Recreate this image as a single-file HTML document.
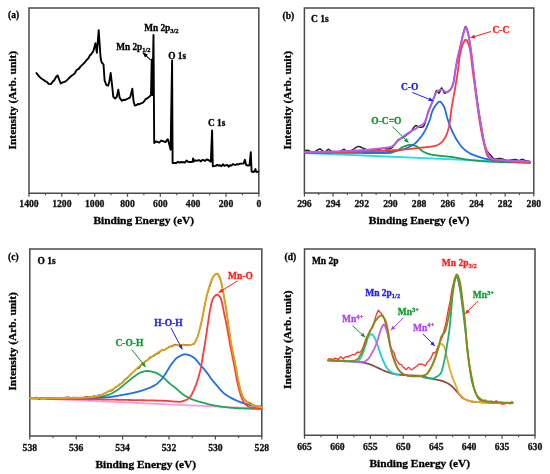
<!DOCTYPE html>
<html><head><meta charset="utf-8"><style>html,body{margin:0;padding:0;background:#fff;width:550px;height:474px;overflow:hidden}svg{display:block;filter:blur(0.3px)}</style></head>
<body><svg width="550" height="474" viewBox="0 0 550 474">
<rect width="550" height="474" fill="#ffffff"/>
<g>
<path d="M29,8 H258.8 V193.2 H29 Z" fill="none" stroke="#4a4a4a" stroke-width="1.5"/>
<line x1="29.00" y1="193.2" x2="29.00" y2="196.7" stroke="#4a4a4a" stroke-width="1.2"/>
<line x1="45.41" y1="193.2" x2="45.41" y2="195.2" stroke="#4a4a4a" stroke-width="1.1"/>
<text x="29.00" y="207.2" font-family="Liberation Serif" font-weight="bold" font-size="9.7" fill="#111" stroke="#111" stroke-width="0.3" text-anchor="middle" >1400</text>
<line x1="61.83" y1="193.2" x2="61.83" y2="196.7" stroke="#4a4a4a" stroke-width="1.2"/>
<line x1="78.24" y1="193.2" x2="78.24" y2="195.2" stroke="#4a4a4a" stroke-width="1.1"/>
<text x="61.83" y="207.2" font-family="Liberation Serif" font-weight="bold" font-size="9.7" fill="#111" stroke="#111" stroke-width="0.3" text-anchor="middle" >1200</text>
<line x1="94.66" y1="193.2" x2="94.66" y2="196.7" stroke="#4a4a4a" stroke-width="1.2"/>
<line x1="111.07" y1="193.2" x2="111.07" y2="195.2" stroke="#4a4a4a" stroke-width="1.1"/>
<text x="94.66" y="207.2" font-family="Liberation Serif" font-weight="bold" font-size="9.7" fill="#111" stroke="#111" stroke-width="0.3" text-anchor="middle" >1000</text>
<line x1="127.49" y1="193.2" x2="127.49" y2="196.7" stroke="#4a4a4a" stroke-width="1.2"/>
<line x1="143.90" y1="193.2" x2="143.90" y2="195.2" stroke="#4a4a4a" stroke-width="1.1"/>
<text x="127.49" y="207.2" font-family="Liberation Serif" font-weight="bold" font-size="9.7" fill="#111" stroke="#111" stroke-width="0.3" text-anchor="middle" >800</text>
<line x1="160.31" y1="193.2" x2="160.31" y2="196.7" stroke="#4a4a4a" stroke-width="1.2"/>
<line x1="176.73" y1="193.2" x2="176.73" y2="195.2" stroke="#4a4a4a" stroke-width="1.1"/>
<text x="160.31" y="207.2" font-family="Liberation Serif" font-weight="bold" font-size="9.7" fill="#111" stroke="#111" stroke-width="0.3" text-anchor="middle" >600</text>
<line x1="193.14" y1="193.2" x2="193.14" y2="196.7" stroke="#4a4a4a" stroke-width="1.2"/>
<line x1="209.56" y1="193.2" x2="209.56" y2="195.2" stroke="#4a4a4a" stroke-width="1.1"/>
<text x="193.14" y="207.2" font-family="Liberation Serif" font-weight="bold" font-size="9.7" fill="#111" stroke="#111" stroke-width="0.3" text-anchor="middle" >400</text>
<line x1="225.97" y1="193.2" x2="225.97" y2="196.7" stroke="#4a4a4a" stroke-width="1.2"/>
<line x1="242.39" y1="193.2" x2="242.39" y2="195.2" stroke="#4a4a4a" stroke-width="1.1"/>
<text x="225.97" y="207.2" font-family="Liberation Serif" font-weight="bold" font-size="9.7" fill="#111" stroke="#111" stroke-width="0.3" text-anchor="middle" >200</text>
<line x1="258.80" y1="193.2" x2="258.80" y2="196.7" stroke="#4a4a4a" stroke-width="1.2"/>
<text x="258.80" y="207.2" font-family="Liberation Serif" font-weight="bold" font-size="9.7" fill="#111" stroke="#111" stroke-width="0.3" text-anchor="middle" >0</text>
<text x="8" y="18" font-family="Liberation Serif" font-weight="bold" font-size="9.5" fill="#000" stroke="#000" stroke-width="0.3" text-anchor="start" >(a)</text>
<text x="0" y="0" font-family="Liberation Serif" font-weight="bold" font-size="11.4" fill="#000" stroke="#000" stroke-width="0.3" text-anchor="middle" transform="translate(15.8,100.2) rotate(-90)">Intensity (Arb. unit)</text>
<text x="143.8" y="224.2" font-family="Liberation Serif" font-weight="bold" font-size="11.4" fill="#000" stroke="#000" stroke-width="0.3" text-anchor="middle" >Binding Energy (eV)</text>
<path d="M36.40,73.10 L37.73,74.63 L39.07,76.38 L40.40,77.70 L42.50,79.20 L43.80,80.01 L45.10,81.20 L46.85,81.93 L48.60,83.90 L50.90,84.10 L52.65,81.73 L54.40,80.00 L56.00,77.01 L57.60,75.40 L60.70,83.50 L62.50,82.40 L64.80,81.80 L67.00,80.20 L68.80,78.39 L70.60,76.50 L73.00,74.80 L74.70,73.44 L76.40,70.20 L79.00,68.60 L80.60,66.41 L82.20,64.90 L84.50,62.80 L86.80,59.70 L88.50,58.20 L90.00,55.10 L91.00,54.60 L93.50,50.80 L95.40,43.20 L96.90,52.90 L98.70,30.10 L100.30,53.80 L100.70,58.50 L101.70,62.50 L103.50,64.30 L104.60,80.50 L106.40,85.20 L108.10,85.70 L109.30,81.70 L110.70,73.00 L112.20,86.30 L113.30,96.80 L115.10,98.50 L116.80,96.80 L118.30,89.80 L119.70,97.90 L122.00,100.80 L123.57,99.80 L125.13,100.01 L126.70,99.10 L128.45,98.45 L130.20,97.30 L132.30,88.60 L133.60,101.40 L134.80,105.50 L136.33,105.17 L137.87,104.05 L139.40,104.30 L140.97,103.31 L142.53,102.85 L144.10,101.40 L145.63,99.09 L147.17,98.35 L148.70,97.30 L151.00,95.00 L151.70,59.70 L152.40,95.00 L153.50,35.00 L154.20,143.00 L155.87,141.54 L157.53,141.83 L159.20,142.60 L161.10,140.56 L163.00,141.10 L165.40,142.10 L167.80,139.20 L169.20,144.00 L170.60,149.70 L172.10,60.50 L172.60,163.00 L174.45,162.84 L176.30,163.00 L177.90,161.78 L179.50,162.52 L181.10,162.00 L182.40,162.28 L183.70,162.20 L185.00,162.50 L186.52,160.58 L188.04,161.80 L189.56,161.99 L191.08,161.94 L192.60,161.70 L193.10,158.40 L193.80,161.50 L195.22,160.26 L196.64,160.83 L198.06,160.31 L199.48,160.25 L200.90,161.39 L202.32,159.91 L203.74,160.29 L205.16,160.76 L206.58,159.56 L208.00,159.80 L209.40,160.67 L210.80,161.70 L212.10,130.40 L212.80,166.20 L214.24,166.10 L215.68,165.88 L217.12,164.80 L218.56,165.53 L220.00,165.30 L221.44,166.25 L222.89,164.22 L224.33,165.90 L225.77,165.38 L227.21,164.85 L228.66,166.70 L230.10,165.30 L231.47,165.62 L232.85,164.04 L234.22,164.71 L235.60,164.85 L236.97,164.11 L238.35,164.50 L239.72,163.77 L241.10,163.60 L243.60,163.60 L244.90,159.80 L246.20,164.90 L247.85,165.57 L249.50,165.30 L250.80,152.20 L251.60,171.60 L253.80,172.00 L255.40,169.10 L256.30,172.00 L258.40,171.60" fill="none" stroke="#000" stroke-width="1.9" stroke-linejoin="round" stroke-linecap="round"/>
<text x="144.2" y="31.2" font-family="Liberation Serif" font-weight="bold" font-size="9.3" fill="#000" stroke="#000" stroke-width="0.3" text-anchor="start" >Mn 2p<tspan font-size="6.5" dy="2.2">3/2</tspan></text>
<text x="116.2" y="50.2" font-family="Liberation Serif" font-weight="bold" font-size="9.3" fill="#000" stroke="#000" stroke-width="0.3" text-anchor="start" >Mn 2p<tspan font-size="6.5" dy="2.2">1/2</tspan></text>
<line x1="150.5" y1="59.8" x2="142.8" y2="52.6" stroke="#000" stroke-width="1.1"/>
<path d="M142.80,52.60 L147.95,54.41 L144.95,57.62 Z" fill="#000"/>
<text x="168.3" y="58.6" font-family="Liberation Serif" font-weight="bold" font-size="9.3" fill="#000" stroke="#000" stroke-width="0.3" text-anchor="start" >O 1s</text>
<text x="208" y="125.6" font-family="Liberation Serif" font-weight="bold" font-size="9.3" fill="#000" stroke="#000" stroke-width="0.3" text-anchor="start" >C 1s</text>
<path d="M304.4,8 H533.8 V193.1 H304.4 Z" fill="none" stroke="#4a4a4a" stroke-width="1.5"/>
<line x1="304.40" y1="193.1" x2="304.40" y2="196.6" stroke="#4a4a4a" stroke-width="1.2"/>
<line x1="318.74" y1="193.1" x2="318.74" y2="195.1" stroke="#4a4a4a" stroke-width="1.1"/>
<text x="304.40" y="207.2" font-family="Liberation Serif" font-weight="bold" font-size="9.7" fill="#111" stroke="#111" stroke-width="0.3" text-anchor="middle" >296</text>
<line x1="333.07" y1="193.1" x2="333.07" y2="196.6" stroke="#4a4a4a" stroke-width="1.2"/>
<line x1="347.41" y1="193.1" x2="347.41" y2="195.1" stroke="#4a4a4a" stroke-width="1.1"/>
<text x="333.07" y="207.2" font-family="Liberation Serif" font-weight="bold" font-size="9.7" fill="#111" stroke="#111" stroke-width="0.3" text-anchor="middle" >294</text>
<line x1="361.75" y1="193.1" x2="361.75" y2="196.6" stroke="#4a4a4a" stroke-width="1.2"/>
<line x1="376.09" y1="193.1" x2="376.09" y2="195.1" stroke="#4a4a4a" stroke-width="1.1"/>
<text x="361.75" y="207.2" font-family="Liberation Serif" font-weight="bold" font-size="9.7" fill="#111" stroke="#111" stroke-width="0.3" text-anchor="middle" >292</text>
<line x1="390.42" y1="193.1" x2="390.42" y2="196.6" stroke="#4a4a4a" stroke-width="1.2"/>
<line x1="404.76" y1="193.1" x2="404.76" y2="195.1" stroke="#4a4a4a" stroke-width="1.1"/>
<text x="390.42" y="207.2" font-family="Liberation Serif" font-weight="bold" font-size="9.7" fill="#111" stroke="#111" stroke-width="0.3" text-anchor="middle" >290</text>
<line x1="419.10" y1="193.1" x2="419.10" y2="196.6" stroke="#4a4a4a" stroke-width="1.2"/>
<line x1="433.44" y1="193.1" x2="433.44" y2="195.1" stroke="#4a4a4a" stroke-width="1.1"/>
<text x="419.10" y="207.2" font-family="Liberation Serif" font-weight="bold" font-size="9.7" fill="#111" stroke="#111" stroke-width="0.3" text-anchor="middle" >288</text>
<line x1="447.77" y1="193.1" x2="447.77" y2="196.6" stroke="#4a4a4a" stroke-width="1.2"/>
<line x1="462.11" y1="193.1" x2="462.11" y2="195.1" stroke="#4a4a4a" stroke-width="1.1"/>
<text x="447.77" y="207.2" font-family="Liberation Serif" font-weight="bold" font-size="9.7" fill="#111" stroke="#111" stroke-width="0.3" text-anchor="middle" >286</text>
<line x1="476.45" y1="193.1" x2="476.45" y2="196.6" stroke="#4a4a4a" stroke-width="1.2"/>
<line x1="490.79" y1="193.1" x2="490.79" y2="195.1" stroke="#4a4a4a" stroke-width="1.1"/>
<text x="476.45" y="207.2" font-family="Liberation Serif" font-weight="bold" font-size="9.7" fill="#111" stroke="#111" stroke-width="0.3" text-anchor="middle" >284</text>
<line x1="505.12" y1="193.1" x2="505.12" y2="196.6" stroke="#4a4a4a" stroke-width="1.2"/>
<line x1="519.46" y1="193.1" x2="519.46" y2="195.1" stroke="#4a4a4a" stroke-width="1.1"/>
<text x="505.12" y="207.2" font-family="Liberation Serif" font-weight="bold" font-size="9.7" fill="#111" stroke="#111" stroke-width="0.3" text-anchor="middle" >282</text>
<line x1="533.80" y1="193.1" x2="533.80" y2="196.6" stroke="#4a4a4a" stroke-width="1.2"/>
<text x="533.80" y="207.2" font-family="Liberation Serif" font-weight="bold" font-size="9.7" fill="#111" stroke="#111" stroke-width="0.3" text-anchor="middle" >280</text>
<text x="282.6" y="18.6" font-family="Liberation Serif" font-weight="bold" font-size="9.5" fill="#000" stroke="#000" stroke-width="0.3" text-anchor="start" >(b)</text>
<text x="0" y="0" font-family="Liberation Serif" font-weight="bold" font-size="11.4" fill="#000" stroke="#000" stroke-width="0.3" text-anchor="middle" transform="translate(290.8,100.2) rotate(-90)">Intensity (Arb. unit)</text>
<text x="419.1" y="224.2" font-family="Liberation Serif" font-weight="bold" font-size="11.4" fill="#000" stroke="#000" stroke-width="0.3" text-anchor="middle" >Binding Energy (eV)</text>
<text x="311" y="21.9" font-family="Liberation Serif" font-weight="bold" font-size="9.5" fill="#000" stroke="#000" stroke-width="0.3" text-anchor="start" >C 1s</text>
<line x1="305" y1="153.00" x2="530" y2="162.60" stroke="#22e0e8" stroke-width="1.8"/>
<path d="M305.00,150.73 L305.50,150.56 L306.00,150.38 L306.50,150.27 L307.00,150.22 L307.50,150.25 L308.00,150.34 L308.50,150.46 L309.00,150.62 L309.50,150.84 L310.00,151.11 L310.50,151.38 L311.00,151.57 L311.50,151.70 L312.00,151.80 L312.50,151.88 L313.00,151.94 L313.50,151.98 L314.00,151.97 L314.50,151.87 L315.00,151.64 L315.50,151.33 L316.00,150.97 L316.50,150.62 L317.00,150.31 L317.50,150.01 L318.00,149.71 L318.50,149.42 L319.00,149.17 L319.50,149.01 L320.00,148.98 L320.50,149.18 L321.00,149.58 L321.50,150.05 L322.00,150.47 L322.50,150.79 L323.00,151.08 L323.50,151.35 L324.00,151.57 L324.50,151.71 L325.00,151.74 L325.50,151.59 L326.00,151.26 L326.50,150.80 L327.00,150.30 L327.50,149.84 L328.00,149.51 L328.50,149.39 L329.00,149.51 L329.50,149.82 L330.00,150.24 L330.50,150.64 L331.00,150.97 L331.50,151.23 L332.00,151.45 L332.50,151.66 L333.00,151.82 L333.50,151.93 L334.00,151.99 L334.50,151.99 L335.00,151.98 L335.50,151.96 L336.00,151.93 L336.50,151.90 L337.00,151.86 L337.50,151.81 L338.00,151.76 L338.50,151.70 L339.00,151.64 L339.50,151.57 L340.00,151.48 L340.50,151.33 L341.00,151.08 L341.50,150.77 L342.00,150.42 L342.50,150.06 L343.00,149.73 L343.50,149.46 L344.00,149.31 L344.50,149.42 L345.00,149.95 L345.50,150.68 L346.00,151.16 L346.50,151.29 L347.00,151.30 L347.50,151.30 L348.00,151.30 L348.50,151.30 L349.00,151.30 L349.50,151.30 L350.00,151.27 L350.50,151.16 L351.00,150.93 L351.50,150.60 L352.00,150.22 L352.50,149.85 L353.00,149.51 L353.50,149.18 L354.00,148.85 L354.50,148.49 L355.00,148.14 L355.50,147.78 L356.00,147.45 L356.50,147.15 L357.00,146.90 L357.50,146.70 L358.00,146.57 L358.50,146.53 L359.00,146.56 L359.50,146.66 L360.00,146.82 L360.50,147.02 L361.00,147.24 L361.50,147.48 L362.00,147.71 L362.50,147.93 L363.00,148.14 L363.50,148.34 L364.00,148.55 L364.50,148.78 L365.00,148.99 L365.50,149.20 L366.00,149.38 L366.50,149.53 L367.00,149.64 L367.50,149.72 L368.00,149.77 L368.50,149.82 L369.00,149.86 L369.50,149.90 L370.00,149.93 L370.50,149.96 L371.00,149.98 L371.50,149.99 L372.00,150.00 L372.50,149.99 L373.00,149.98 L373.50,149.95 L374.00,149.92 L374.50,149.88 L375.00,149.84 L375.50,149.79 L376.00,149.74 L376.50,149.68 L377.00,149.62 L377.50,149.56 L378.00,149.49 L378.50,149.41 L379.00,149.31 L379.50,149.19 L380.00,149.05 L380.50,148.90 L381.00,148.76 L381.50,148.63 L382.00,148.51 L382.50,148.41 L383.00,148.34 L383.50,148.32 L384.00,148.35 L384.50,148.43 L385.00,148.56 L385.50,148.71 L386.00,148.84 L386.50,148.94 L387.00,148.98 L387.50,148.98 L388.00,148.95 L388.50,148.90 L389.00,148.84 L389.50,148.75 L390.00,148.65 L390.50,148.52 L391.00,148.37 L391.50,148.13 L392.00,147.70 L392.50,147.10 L393.00,146.43 L393.50,145.79 L394.00,145.15 L394.50,144.49 L395.00,143.81 L395.50,143.12 L396.00,142.44 L396.50,141.78 L397.00,141.16 L397.50,140.59 L398.00,140.09 L398.50,139.67 L399.00,139.33 L399.50,139.05 L400.00,138.81 L400.50,138.59 L401.00,138.39 L401.50,138.19 L402.00,137.98 L402.50,137.75 L403.00,137.49 L403.50,137.19 L404.00,136.87 L404.50,136.53 L405.00,136.17 L405.50,135.79 L406.00,135.40 L406.50,135.01 L407.00,134.61 L407.50,134.22 L408.00,133.83 L408.50,133.45 L409.00,133.08 L409.50,132.71 L410.00,132.33 L410.50,131.93 L411.00,131.47 L411.50,130.92 L412.00,130.26 L412.50,129.51 L413.00,128.72 L413.50,127.94 L414.00,127.20 L414.50,126.55 L415.00,126.03 L415.50,125.70 L416.00,125.57 L416.50,125.66 L417.00,125.91 L417.50,126.25 L418.00,126.62 L418.50,126.95 L419.00,127.18 L419.50,127.27 L420.00,127.28 L420.50,127.26 L421.00,127.23 L421.50,127.17 L422.00,127.11 L422.50,127.00 L423.00,126.77 L423.50,126.27 L424.00,125.50 L424.50,124.52 L425.00,123.26 L425.50,121.55 L426.00,119.54 L426.50,117.61 L427.00,115.94 L427.50,114.44 L428.00,113.01 L428.50,111.65 L429.00,110.34 L429.50,109.06 L430.00,107.79 L430.50,106.52 L431.00,105.24 L431.50,103.94 L432.00,102.65 L432.50,101.37 L433.00,100.10 L433.50,98.82 L434.00,97.50 L434.50,96.10 L435.00,94.48 L435.50,92.73 L436.00,91.28 L436.50,90.61 L437.00,90.77 L437.50,91.44 L438.00,92.26 L438.50,92.93 L439.00,93.12 L439.50,92.56 L440.00,91.31 L440.50,89.79 L441.00,88.55 L441.50,88.00 L442.00,88.26 L442.50,89.12 L443.00,90.30 L443.50,91.53 L444.00,92.55 L444.50,93.15 L445.00,93.27 L445.50,93.09 L446.00,92.76 L446.50,92.38 L447.00,92.02 L447.50,91.69 L448.00,91.38 L448.50,91.06 L449.00,90.72 L449.50,90.34 L450.00,89.89 L450.50,89.34 L451.00,88.67 L451.50,87.84 L452.00,86.83 L452.50,85.64 L453.00,84.22 L453.50,82.41 L454.00,79.82 L454.50,76.43 L455.00,72.83 L455.50,69.58 L456.00,66.74 L456.50,64.13 L457.00,61.64 L457.50,59.25 L458.00,56.93 L458.50,54.67 L459.00,52.43 L459.50,50.20 L460.00,47.95 L460.50,45.65 L461.00,43.31 L461.50,40.94 L462.00,38.62 L462.50,36.41 L463.00,34.38 L463.50,32.51 L464.00,30.72 L464.50,29.02 L465.00,27.64 L465.50,26.87 L466.00,26.91 L466.50,27.70 L467.00,29.04 L467.50,30.71 L468.00,32.60 L468.50,34.83 L469.00,37.52 L469.50,40.60 L470.00,43.91 L470.50,47.35 L471.00,51.01 L471.50,54.93 L472.00,59.07 L472.50,63.34 L473.00,67.64 L473.50,71.90 L474.00,76.02 L474.50,79.95 L475.00,83.76 L475.50,87.52 L476.00,91.26 L476.50,94.97 L477.00,98.63 L477.50,102.24 L478.00,105.79 L478.50,109.25 L479.00,112.62 L479.50,115.89 L480.00,119.04 L480.50,122.07 L481.00,124.99 L481.50,127.87 L482.00,130.76 L482.50,133.65 L483.00,136.47 L483.50,139.17 L484.00,141.69 L484.50,143.98 L485.00,145.97 L485.50,147.62 L486.00,148.91 L486.50,149.93 L487.00,150.79 L487.50,151.55 L488.00,152.23 L488.50,152.84 L489.00,153.41 L489.50,153.95 L490.00,154.48 L490.50,155.01 L491.00,155.57 L491.50,156.15 L492.00,156.74 L492.50,157.31 L493.00,157.84 L493.50,158.29 L494.00,158.64 L494.50,158.87 L495.00,158.97 L495.50,158.98 L496.00,158.94 L496.50,158.89 L497.00,158.82 L497.50,158.75 L498.00,158.68 L498.50,158.61 L499.00,158.56 L499.50,158.52 L500.00,158.51 L500.50,158.55 L501.00,158.62 L501.50,158.74 L502.00,158.88 L502.50,159.04 L503.00,159.20 L503.50,159.36 L504.00,159.50 L504.50,159.64 L505.00,159.80 L505.50,159.96 L506.00,160.12 L506.50,160.26 L507.00,160.38 L507.50,160.45 L508.00,160.48 L508.50,160.46 L509.00,160.40 L509.50,160.32 L510.00,160.21 L510.50,160.10 L511.00,159.98 L511.50,159.89 L512.00,159.80 L512.50,159.73 L513.00,159.67 L513.50,159.61 L514.00,159.56 L514.50,159.52 L515.00,159.52 L515.50,159.56 L516.00,159.67 L516.50,159.82 L517.00,160.00 L517.50,160.18 L518.00,160.33 L518.50,160.43 L519.00,160.46 L519.50,160.37 L520.00,160.17 L520.50,159.90 L521.00,159.63 L521.50,159.43 L522.00,159.34 L522.50,159.38 L523.00,159.52 L523.50,159.72 L524.00,159.96 L524.50,160.21 L525.00,160.45 L525.50,160.64 L526.00,160.79 L526.50,160.89 L527.00,160.98 L527.50,161.07 L528.00,161.14 L528.50,161.20 L529.00,161.25 L529.50,161.28 L530.00,161.30" fill="none" stroke="#2a2a2a" stroke-width="1.5"/>
<path d="M305.00,152.60 L305.50,152.60 L306.00,152.60 L306.50,152.60 L307.00,152.60 L307.50,152.60 L308.00,152.60 L308.50,152.60 L309.00,152.60 L309.50,152.60 L310.00,152.60 L310.50,152.60 L311.00,152.60 L311.50,152.61 L312.00,152.61 L312.50,152.61 L313.00,152.61 L313.50,152.61 L314.00,152.61 L314.50,152.61 L315.00,152.61 L315.50,152.61 L316.00,152.62 L316.50,152.62 L317.00,152.62 L317.50,152.62 L318.00,152.62 L318.50,152.62 L319.00,152.63 L319.50,152.63 L320.00,152.63 L320.50,152.63 L321.00,152.63 L321.50,152.63 L322.00,152.64 L322.50,152.64 L323.00,152.64 L323.50,152.64 L324.00,152.64 L324.50,152.65 L325.00,152.65 L325.50,152.65 L326.00,152.65 L326.50,152.66 L327.00,152.66 L327.50,152.66 L328.00,152.66 L328.50,152.67 L329.00,152.67 L329.50,152.67 L330.00,152.67 L330.50,152.68 L331.00,152.68 L331.50,152.68 L332.00,152.68 L332.50,152.69 L333.00,152.69 L333.50,152.69 L334.00,152.70 L334.50,152.70 L335.00,152.70 L335.50,152.71 L336.00,152.71 L336.50,152.71 L337.00,152.71 L337.50,152.72 L338.00,152.72 L338.50,152.72 L339.00,152.73 L339.50,152.73 L340.00,152.73 L340.50,152.74 L341.00,152.74 L341.50,152.74 L342.00,152.75 L342.50,152.75 L343.00,152.75 L343.50,152.76 L344.00,152.76 L344.50,152.76 L345.00,152.77 L345.50,152.77 L346.00,152.77 L346.50,152.78 L347.00,152.78 L347.50,152.78 L348.00,152.79 L348.50,152.79 L349.00,152.79 L349.50,152.80 L350.00,152.80 L350.50,152.80 L351.00,152.81 L351.50,152.81 L352.00,152.82 L352.50,152.82 L353.00,152.83 L353.50,152.83 L354.00,152.84 L354.50,152.85 L355.00,152.85 L355.50,152.86 L356.00,152.87 L356.50,152.88 L357.00,152.88 L357.50,152.89 L358.00,152.90 L358.50,152.91 L359.00,152.92 L359.50,152.93 L360.00,152.93 L360.50,152.94 L361.00,152.95 L361.50,152.96 L362.00,152.97 L362.50,152.98 L363.00,152.99 L363.50,153.00 L364.00,153.01 L364.50,153.02 L365.00,153.03 L365.50,153.03 L366.00,153.04 L366.50,153.05 L367.00,153.06 L367.50,153.07 L368.00,153.08 L368.50,153.09 L369.00,153.10 L369.50,153.10 L370.00,153.11 L370.50,153.12 L371.00,153.13 L371.50,153.13 L372.00,153.14 L372.50,153.15 L373.00,153.15 L373.50,153.16 L374.00,153.17 L374.50,153.17 L375.00,153.18 L375.50,153.18 L376.00,153.18 L376.50,153.19 L377.00,153.19 L377.50,153.19 L378.00,153.20 L378.50,153.20 L379.00,153.20 L379.50,153.20 L380.00,153.20 L380.50,153.20 L381.00,153.20 L381.50,153.19 L382.00,153.19 L382.50,153.19 L383.00,153.18 L383.50,153.17 L384.00,153.16 L384.50,153.15 L385.00,153.14 L385.50,153.13 L386.00,153.12 L386.50,153.10 L387.00,153.09 L387.50,153.07 L388.00,153.06 L388.50,153.04 L389.00,153.02 L389.50,153.00 L390.00,152.96 L390.50,152.90 L391.00,152.80 L391.50,152.68 L392.00,152.53 L392.50,152.37 L393.00,152.19 L393.50,151.99 L394.00,151.78 L394.50,151.57 L395.00,151.34 L395.50,151.12 L396.00,150.89 L396.50,150.66 L397.00,150.44 L397.50,150.22 L398.00,149.95 L398.50,149.67 L399.00,149.36 L399.50,149.03 L400.00,148.70 L400.50,148.37 L401.00,148.04 L401.50,147.72 L402.00,147.42 L402.50,147.14 L403.00,146.89 L403.50,146.67 L404.00,146.49 L404.50,146.31 L405.00,146.14 L405.50,145.96 L406.00,145.79 L406.50,145.62 L407.00,145.47 L407.50,145.33 L408.00,145.20 L408.50,145.10 L409.00,145.01 L409.50,144.95 L410.00,144.91 L410.50,144.90 L411.00,144.92 L411.50,144.96 L412.00,145.02 L412.50,145.11 L413.00,145.21 L413.50,145.33 L414.00,145.46 L414.50,145.60 L415.00,145.75 L415.50,145.91 L416.00,146.07 L416.50,146.26 L417.00,146.53 L417.50,146.86 L418.00,147.25 L418.50,147.68 L419.00,148.14 L419.50,148.62 L420.00,149.10 L420.50,149.58 L421.00,150.04 L421.50,150.47 L422.00,150.85 L422.50,151.19 L423.00,151.46 L423.50,151.73 L424.00,151.98 L424.50,152.23 L425.00,152.47 L425.50,152.70 L426.00,152.92 L426.50,153.13 L427.00,153.33 L427.50,153.52 L428.00,153.70 L428.50,153.87 L429.00,154.03 L429.50,154.17 L430.00,154.30 L430.50,154.42 L431.00,154.53 L431.50,154.63 L432.00,154.72 L432.50,154.81 L433.00,154.89 L433.50,154.97 L434.00,155.04 L434.50,155.12 L435.00,155.19 L435.50,155.25 L436.00,155.32 L436.50,155.38 L437.00,155.44 L437.50,155.50 L438.00,155.56 L438.50,155.62 L439.00,155.67 L439.50,155.73 L440.00,155.78 L440.50,155.83 L441.00,155.89 L441.50,155.94 L442.00,155.99 L442.50,156.04 L443.00,156.08 L443.50,156.13 L444.00,156.18 L444.50,156.23 L445.00,156.28 L445.50,156.33 L446.00,156.38 L446.50,156.43 L447.00,156.48 L447.50,156.53 L448.00,156.59 L448.50,156.64 L449.00,156.70 L449.50,156.75 L450.00,156.81 L450.50,156.87 L451.00,156.93 L451.50,156.99 L452.00,157.06 L452.50,157.13 L453.00,157.20 L453.50,157.27 L454.00,157.35 L454.50,157.42 L455.00,157.51 L455.50,157.59 L456.00,157.67 L456.50,157.76 L457.00,157.85 L457.50,157.94 L458.00,158.03 L458.50,158.12 L459.00,158.21 L459.50,158.30 L460.00,158.39 L460.50,158.48 L461.00,158.58 L461.50,158.67 L462.00,158.76 L462.50,158.85 L463.00,158.94 L463.50,159.02 L464.00,159.11 L464.50,159.20 L465.00,159.28 L465.50,159.36 L466.00,159.44 L466.50,159.51 L467.00,159.59 L467.50,159.66 L468.00,159.72 L468.50,159.79 L469.00,159.85 L469.50,159.91 L470.00,159.97 L470.50,160.03 L471.00,160.09 L471.50,160.15 L472.00,160.21 L472.50,160.27 L473.00,160.33 L473.50,160.39 L474.00,160.45 L474.50,160.51 L475.00,160.56 L475.50,160.62 L476.00,160.67 L476.50,160.73 L477.00,160.78 L477.50,160.83 L478.00,160.88 L478.50,160.93 L479.00,160.97 L479.50,161.02 L480.00,161.06 L480.50,161.11 L481.00,161.15 L481.50,161.19 L482.00,161.22 L482.50,161.26 L483.00,161.29 L483.50,161.32 L484.00,161.35 L484.50,161.38 L485.00,161.40 L485.50,161.42 L486.00,161.45 L486.50,161.47 L487.00,161.49 L487.50,161.51 L488.00,161.54 L488.50,161.56 L489.00,161.58 L489.50,161.60 L490.00,161.62 L490.50,161.64 L491.00,161.67 L491.50,161.69 L492.00,161.71 L492.50,161.73 L493.00,161.75 L493.50,161.77 L494.00,161.79 L494.50,161.81 L495.00,161.83 L495.50,161.85 L496.00,161.87 L496.50,161.89 L497.00,161.91 L497.50,161.93 L498.00,161.94 L498.50,161.96 L499.00,161.98 L499.50,162.00 L500.00,162.02 L500.50,162.04 L501.00,162.05 L501.50,162.07 L502.00,162.09 L502.50,162.10 L503.00,162.12 L503.50,162.14 L504.00,162.15 L504.50,162.17 L505.00,162.18 L505.50,162.20 L506.00,162.21 L506.50,162.23 L507.00,162.24 L507.50,162.26 L508.00,162.27 L508.50,162.29 L509.00,162.30 L509.50,162.31 L510.00,162.33 L510.50,162.34 L511.00,162.35 L511.50,162.36 L512.00,162.38 L512.50,162.39 L513.00,162.40 L513.50,162.41 L514.00,162.42 L514.50,162.43 L515.00,162.44 L515.50,162.45 L516.00,162.46 L516.50,162.47 L517.00,162.48 L517.50,162.49 L518.00,162.50 L518.50,162.51 L519.00,162.51 L519.50,162.52 L520.00,162.53 L520.50,162.53 L521.00,162.54 L521.50,162.55 L522.00,162.55 L522.50,162.56 L523.00,162.56 L523.50,162.57 L524.00,162.57 L524.50,162.58 L525.00,162.58 L525.50,162.59 L526.00,162.59 L526.50,162.59 L527.00,162.59 L527.50,162.60 L528.00,162.60 L528.50,162.60 L529.00,162.60 L529.50,162.60 L530.00,162.60" fill="none" stroke="#1a9e50" stroke-width="1.8" stroke-linejoin="round" stroke-linecap="round" />
<path d="M305.00,152.60 L305.50,152.60 L306.00,152.59 L306.50,152.59 L307.00,152.59 L307.50,152.59 L308.00,152.58 L308.50,152.58 L309.00,152.58 L309.50,152.58 L310.00,152.57 L310.50,152.57 L311.00,152.57 L311.50,152.57 L312.00,152.56 L312.50,152.56 L313.00,152.56 L313.50,152.56 L314.00,152.56 L314.50,152.55 L315.00,152.55 L315.50,152.55 L316.00,152.55 L316.50,152.54 L317.00,152.54 L317.50,152.54 L318.00,152.54 L318.50,152.53 L319.00,152.53 L319.50,152.53 L320.00,152.53 L320.50,152.52 L321.00,152.52 L321.50,152.52 L322.00,152.52 L322.50,152.52 L323.00,152.51 L323.50,152.51 L324.00,152.51 L324.50,152.51 L325.00,152.50 L325.50,152.50 L326.00,152.50 L326.50,152.50 L327.00,152.49 L327.50,152.49 L328.00,152.49 L328.50,152.49 L329.00,152.49 L329.50,152.48 L330.00,152.48 L330.50,152.48 L331.00,152.48 L331.50,152.47 L332.00,152.47 L332.50,152.47 L333.00,152.47 L333.50,152.47 L334.00,152.46 L334.50,152.46 L335.00,152.46 L335.50,152.46 L336.00,152.46 L336.50,152.45 L337.00,152.45 L337.50,152.45 L338.00,152.45 L338.50,152.45 L339.00,152.44 L339.50,152.44 L340.00,152.44 L340.50,152.44 L341.00,152.44 L341.50,152.43 L342.00,152.43 L342.50,152.43 L343.00,152.43 L343.50,152.43 L344.00,152.42 L344.50,152.42 L345.00,152.42 L345.50,152.42 L346.00,152.42 L346.50,152.41 L347.00,152.41 L347.50,152.41 L348.00,152.41 L348.50,152.41 L349.00,152.40 L349.50,152.40 L350.00,152.40 L350.50,152.40 L351.00,152.40 L351.50,152.39 L352.00,152.39 L352.50,152.39 L353.00,152.39 L353.50,152.39 L354.00,152.39 L354.50,152.39 L355.00,152.38 L355.50,152.38 L356.00,152.38 L356.50,152.38 L357.00,152.38 L357.50,152.38 L358.00,152.38 L358.50,152.38 L359.00,152.37 L359.50,152.37 L360.00,152.37 L360.50,152.37 L361.00,152.37 L361.50,152.37 L362.00,152.37 L362.50,152.37 L363.00,152.37 L363.50,152.37 L364.00,152.36 L364.50,152.36 L365.00,152.36 L365.50,152.36 L366.00,152.36 L366.50,152.36 L367.00,152.36 L367.50,152.36 L368.00,152.35 L368.50,152.35 L369.00,152.35 L369.50,152.35 L370.00,152.35 L370.50,152.35 L371.00,152.35 L371.50,152.34 L372.00,152.34 L372.50,152.34 L373.00,152.34 L373.50,152.34 L374.00,152.33 L374.50,152.33 L375.00,152.33 L375.50,152.33 L376.00,152.32 L376.50,152.32 L377.00,152.32 L377.50,152.32 L378.00,152.31 L378.50,152.31 L379.00,152.31 L379.50,152.30 L380.00,152.30 L380.50,152.29 L381.00,152.29 L381.50,152.28 L382.00,152.26 L382.50,152.24 L383.00,152.22 L383.50,152.20 L384.00,152.18 L384.50,152.15 L385.00,152.12 L385.50,152.08 L386.00,152.05 L386.50,152.01 L387.00,151.97 L387.50,151.92 L388.00,151.88 L388.50,151.83 L389.00,151.78 L389.50,151.73 L390.00,151.67 L390.50,151.61 L391.00,151.56 L391.50,151.50 L392.00,151.43 L392.50,151.37 L393.00,151.30 L393.50,151.24 L394.00,151.17 L394.50,151.10 L395.00,151.02 L395.50,150.95 L396.00,150.88 L396.50,150.80 L397.00,150.72 L397.50,150.64 L398.00,150.56 L398.50,150.48 L399.00,150.40 L399.50,150.31 L400.00,150.22 L400.50,150.11 L401.00,149.99 L401.50,149.87 L402.00,149.74 L402.50,149.59 L403.00,149.44 L403.50,149.28 L404.00,149.11 L404.50,148.94 L405.00,148.75 L405.50,148.56 L406.00,148.36 L406.50,148.15 L407.00,147.94 L407.50,147.71 L408.00,147.48 L408.50,147.25 L409.00,147.00 L409.50,146.75 L410.00,146.50 L410.50,146.23 L411.00,145.96 L411.50,145.68 L412.00,145.40 L412.50,145.11 L413.00,144.82 L413.50,144.51 L414.00,144.18 L414.50,143.80 L415.00,143.40 L415.50,142.97 L416.00,142.50 L416.50,142.02 L417.00,141.51 L417.50,140.98 L418.00,140.43 L418.50,139.86 L419.00,139.28 L419.50,138.69 L420.00,138.08 L420.50,137.47 L421.00,136.85 L421.50,136.19 L422.00,135.49 L422.50,134.75 L423.00,133.98 L423.50,133.18 L424.00,132.35 L424.50,131.49 L425.00,130.60 L425.50,129.66 L426.00,128.65 L426.50,127.59 L427.00,126.50 L427.50,125.40 L428.00,124.29 L428.50,123.14 L429.00,121.93 L429.50,120.62 L430.00,119.20 L430.50,117.42 L431.00,115.42 L431.50,113.52 L432.00,112.00 L432.50,110.82 L433.00,109.73 L433.50,108.72 L434.00,107.79 L434.50,106.93 L435.00,106.15 L435.50,105.43 L436.00,104.78 L436.50,104.20 L437.00,103.63 L437.50,103.05 L438.00,102.52 L438.50,102.07 L439.00,101.75 L439.50,101.60 L440.00,101.66 L440.50,101.90 L441.00,102.29 L441.50,102.81 L442.00,103.45 L442.50,104.18 L443.00,104.98 L443.50,105.83 L444.00,106.70 L444.50,107.82 L445.00,109.33 L445.50,111.12 L446.00,113.07 L446.50,115.06 L447.00,116.97 L447.50,118.69 L448.00,120.20 L448.50,121.67 L449.00,123.10 L449.50,124.49 L450.00,125.83 L450.50,127.12 L451.00,128.36 L451.50,129.53 L452.00,130.66 L452.50,131.77 L453.00,132.85 L453.50,133.89 L454.00,134.91 L454.50,135.89 L455.00,136.83 L455.50,137.74 L456.00,138.61 L456.50,139.44 L457.00,140.24 L457.50,141.03 L458.00,141.80 L458.50,142.55 L459.00,143.29 L459.50,144.00 L460.00,144.69 L460.50,145.35 L461.00,145.99 L461.50,146.60 L462.00,147.17 L462.50,147.71 L463.00,148.21 L463.50,148.68 L464.00,149.13 L464.50,149.56 L465.00,149.98 L465.50,150.39 L466.00,150.78 L466.50,151.15 L467.00,151.51 L467.50,151.86 L468.00,152.19 L468.50,152.51 L469.00,152.82 L469.50,153.11 L470.00,153.38 L470.50,153.65 L471.00,153.90 L471.50,154.14 L472.00,154.37 L472.50,154.59 L473.00,154.80 L473.50,155.01 L474.00,155.21 L474.50,155.40 L475.00,155.58 L475.50,155.76 L476.00,155.94 L476.50,156.11 L477.00,156.28 L477.50,156.45 L478.00,156.61 L478.50,156.77 L479.00,156.94 L479.50,157.10 L480.00,157.26 L480.50,157.43 L481.00,157.59 L481.50,157.75 L482.00,157.91 L482.50,158.06 L483.00,158.20 L483.50,158.34 L484.00,158.47 L484.50,158.59 L485.00,158.70 L485.50,158.80 L486.00,158.90 L486.50,158.99 L487.00,159.08 L487.50,159.17 L488.00,159.25 L488.50,159.33 L489.00,159.41 L489.50,159.48 L490.00,159.55 L490.50,159.62 L491.00,159.68 L491.50,159.74 L492.00,159.80 L492.50,159.86 L493.00,159.91 L493.50,159.96 L494.00,160.02 L494.50,160.07 L495.00,160.12 L495.50,160.17 L496.00,160.21 L496.50,160.26 L497.00,160.31 L497.50,160.35 L498.00,160.40 L498.50,160.44 L499.00,160.48 L499.50,160.52 L500.00,160.56 L500.50,160.60 L501.00,160.64 L501.50,160.68 L502.00,160.72 L502.50,160.76 L503.00,160.79 L503.50,160.83 L504.00,160.87 L504.50,160.90 L505.00,160.94 L505.50,160.98 L506.00,161.01 L506.50,161.05 L507.00,161.08 L507.50,161.12 L508.00,161.16 L508.50,161.19 L509.00,161.23 L509.50,161.26 L510.00,161.30 L510.50,161.34 L511.00,161.37 L511.50,161.41 L512.00,161.45 L512.50,161.48 L513.00,161.52 L513.50,161.55 L514.00,161.59 L514.50,161.62 L515.00,161.66 L515.50,161.69 L516.00,161.73 L516.50,161.76 L517.00,161.79 L517.50,161.83 L518.00,161.86 L518.50,161.90 L519.00,161.93 L519.50,161.96 L520.00,161.99 L520.50,162.03 L521.00,162.06 L521.50,162.09 L522.00,162.12 L522.50,162.16 L523.00,162.19 L523.50,162.22 L524.00,162.25 L524.50,162.28 L525.00,162.31 L525.50,162.34 L526.00,162.37 L526.50,162.40 L527.00,162.43 L527.50,162.46 L528.00,162.49 L528.50,162.52 L529.00,162.54 L529.50,162.57 L530.00,162.60" fill="none" stroke="#1f6ee8" stroke-width="1.8" stroke-linejoin="round" stroke-linecap="round" />
<path d="M305.00,152.60 L305.50,152.60 L306.00,152.60 L306.50,152.60 L307.00,152.60 L307.50,152.60 L308.00,152.59 L308.50,152.59 L309.00,152.59 L309.50,152.59 L310.00,152.59 L310.50,152.58 L311.00,152.58 L311.50,152.58 L312.00,152.58 L312.50,152.57 L313.00,152.57 L313.50,152.57 L314.00,152.56 L314.50,152.56 L315.00,152.55 L315.50,152.55 L316.00,152.54 L316.50,152.54 L317.00,152.54 L317.50,152.53 L318.00,152.52 L318.50,152.52 L319.00,152.51 L319.50,152.51 L320.00,152.50 L320.50,152.50 L321.00,152.49 L321.50,152.49 L322.00,152.48 L322.50,152.47 L323.00,152.47 L323.50,152.46 L324.00,152.45 L324.50,152.45 L325.00,152.44 L325.50,152.43 L326.00,152.43 L326.50,152.42 L327.00,152.41 L327.50,152.40 L328.00,152.40 L328.50,152.39 L329.00,152.38 L329.50,152.37 L330.00,152.37 L330.50,152.36 L331.00,152.35 L331.50,152.34 L332.00,152.33 L332.50,152.33 L333.00,152.32 L333.50,152.31 L334.00,152.30 L334.50,152.29 L335.00,152.28 L335.50,152.28 L336.00,152.27 L336.50,152.26 L337.00,152.25 L337.50,152.24 L338.00,152.23 L338.50,152.23 L339.00,152.22 L339.50,152.21 L340.00,152.20 L340.50,152.19 L341.00,152.18 L341.50,152.17 L342.00,152.16 L342.50,152.15 L343.00,152.14 L343.50,152.13 L344.00,152.12 L344.50,152.11 L345.00,152.10 L345.50,152.08 L346.00,152.07 L346.50,152.06 L347.00,152.05 L347.50,152.03 L348.00,152.02 L348.50,152.01 L349.00,151.99 L349.50,151.98 L350.00,151.96 L350.50,151.95 L351.00,151.93 L351.50,151.92 L352.00,151.90 L352.50,151.88 L353.00,151.87 L353.50,151.85 L354.00,151.84 L354.50,151.82 L355.00,151.80 L355.50,151.78 L356.00,151.77 L356.50,151.75 L357.00,151.73 L357.50,151.71 L358.00,151.69 L358.50,151.68 L359.00,151.66 L359.50,151.64 L360.00,151.62 L360.50,151.60 L361.00,151.58 L361.50,151.56 L362.00,151.54 L362.50,151.52 L363.00,151.50 L363.50,151.48 L364.00,151.46 L364.50,151.44 L365.00,151.42 L365.50,151.40 L366.00,151.38 L366.50,151.36 L367.00,151.34 L367.50,151.32 L368.00,151.30 L368.50,151.28 L369.00,151.26 L369.50,151.24 L370.00,151.22 L370.50,151.20 L371.00,151.18 L371.50,151.15 L372.00,151.13 L372.50,151.11 L373.00,151.09 L373.50,151.07 L374.00,151.05 L374.50,151.03 L375.00,151.01 L375.50,150.99 L376.00,150.97 L376.50,150.94 L377.00,150.92 L377.50,150.90 L378.00,150.88 L378.50,150.86 L379.00,150.84 L379.50,150.82 L380.00,150.80 L380.50,150.78 L381.00,150.76 L381.50,150.74 L382.00,150.72 L382.50,150.70 L383.00,150.68 L383.50,150.66 L384.00,150.64 L384.50,150.62 L385.00,150.60 L385.50,150.58 L386.00,150.55 L386.50,150.53 L387.00,150.51 L387.50,150.49 L388.00,150.47 L388.50,150.45 L389.00,150.42 L389.50,150.40 L390.00,150.38 L390.50,150.36 L391.00,150.33 L391.50,150.31 L392.00,150.29 L392.50,150.26 L393.00,150.24 L393.50,150.21 L394.00,150.19 L394.50,150.16 L395.00,150.13 L395.50,150.11 L396.00,150.08 L396.50,150.05 L397.00,150.02 L397.50,149.99 L398.00,149.96 L398.50,149.93 L399.00,149.90 L399.50,149.87 L400.00,149.83 L400.50,149.80 L401.00,149.76 L401.50,149.73 L402.00,149.69 L402.50,149.65 L403.00,149.61 L403.50,149.56 L404.00,149.52 L404.50,149.48 L405.00,149.43 L405.50,149.38 L406.00,149.34 L406.50,149.29 L407.00,149.24 L407.50,149.19 L408.00,149.14 L408.50,149.09 L409.00,149.04 L409.50,148.99 L410.00,148.94 L410.50,148.88 L411.00,148.83 L411.50,148.77 L412.00,148.72 L412.50,148.67 L413.00,148.61 L413.50,148.55 L414.00,148.50 L414.50,148.44 L415.00,148.39 L415.50,148.33 L416.00,148.28 L416.50,148.22 L417.00,148.16 L417.50,148.11 L418.00,148.05 L418.50,147.99 L419.00,147.94 L419.50,147.88 L420.00,147.83 L420.50,147.77 L421.00,147.72 L421.50,147.67 L422.00,147.61 L422.50,147.56 L423.00,147.51 L423.50,147.45 L424.00,147.40 L424.50,147.35 L425.00,147.30 L425.50,147.25 L426.00,147.21 L426.50,147.16 L427.00,147.12 L427.50,147.07 L428.00,147.02 L428.50,146.97 L429.00,146.92 L429.50,146.86 L430.00,146.80 L430.50,146.73 L431.00,146.66 L431.50,146.58 L432.00,146.50 L432.50,146.41 L433.00,146.32 L433.50,146.21 L434.00,146.10 L434.50,145.98 L435.00,145.86 L435.50,145.72 L436.00,145.57 L436.50,145.40 L437.00,145.20 L437.50,144.98 L438.00,144.73 L438.50,144.45 L439.00,144.15 L439.50,143.83 L440.00,143.49 L440.50,143.12 L441.00,142.73 L441.50,142.32 L442.00,141.85 L442.50,141.32 L443.00,140.72 L443.50,140.06 L444.00,139.34 L444.50,138.55 L445.00,137.70 L445.50,136.78 L446.00,135.80 L446.50,134.68 L447.00,133.41 L447.50,131.97 L448.00,130.35 L448.50,128.53 L449.00,126.50 L449.50,123.80 L450.00,120.27 L450.50,116.30 L451.00,112.30 L451.50,108.65 L452.00,105.53 L452.50,102.60 L453.00,99.81 L453.50,97.09 L454.00,94.39 L454.50,91.66 L455.00,88.85 L455.50,85.90 L456.00,82.92 L456.50,79.92 L457.00,76.81 L457.50,73.53 L458.00,70.00 L458.50,65.68 L459.00,61.15 L459.50,57.82 L460.00,55.04 L460.50,52.49 L461.00,50.19 L461.50,48.17 L462.00,46.43 L462.50,44.99 L463.00,43.81 L463.50,42.67 L464.00,41.61 L464.50,40.73 L465.00,40.07 L465.50,39.73 L466.00,39.77 L466.50,40.15 L467.00,40.83 L467.50,41.73 L468.00,42.81 L468.50,44.00 L469.00,45.36 L469.50,47.26 L470.00,49.70 L470.50,52.64 L471.00,56.03 L471.50,59.80 L472.00,65.00 L472.50,69.38 L473.00,73.25 L473.50,76.83 L474.00,80.34 L474.50,84.00 L475.00,87.83 L475.50,91.69 L476.00,95.53 L476.50,99.32 L477.00,103.00 L477.50,106.62 L478.00,110.22 L478.50,113.78 L479.00,117.24 L479.50,120.59 L480.00,123.78 L480.50,126.79 L481.00,129.69 L481.50,132.44 L482.00,135.05 L482.50,137.47 L483.00,139.74 L483.50,141.89 L484.00,143.93 L484.50,145.87 L485.00,147.76 L485.50,149.74 L486.00,151.71 L486.50,153.52 L487.00,155.00 L487.50,156.00 L488.00,156.66 L488.50,157.23 L489.00,157.72 L489.50,158.14 L490.00,158.49 L490.50,158.78 L491.00,159.00 L491.50,159.19 L492.00,159.36 L492.50,159.51 L493.00,159.65 L493.50,159.77 L494.00,159.89 L494.50,159.99 L495.00,160.08 L495.50,160.17 L496.00,160.24 L496.50,160.31 L497.00,160.38 L497.50,160.45 L498.00,160.51 L498.50,160.57 L499.00,160.62 L499.50,160.68 L500.00,160.73 L500.50,160.78 L501.00,160.83 L501.50,160.87 L502.00,160.92 L502.50,160.96 L503.00,161.00 L503.50,161.04 L504.00,161.08 L504.50,161.12 L505.00,161.16 L505.50,161.19 L506.00,161.23 L506.50,161.26 L507.00,161.30 L507.50,161.33 L508.00,161.36 L508.50,161.40 L509.00,161.43 L509.50,161.47 L510.00,161.50 L510.50,161.53 L511.00,161.57 L511.50,161.60 L512.00,161.64 L512.50,161.67 L513.00,161.70 L513.50,161.74 L514.00,161.77 L514.50,161.80 L515.00,161.83 L515.50,161.86 L516.00,161.90 L516.50,161.93 L517.00,161.96 L517.50,161.99 L518.00,162.02 L518.50,162.05 L519.00,162.08 L519.50,162.11 L520.00,162.13 L520.50,162.16 L521.00,162.19 L521.50,162.22 L522.00,162.24 L522.50,162.27 L523.00,162.30 L523.50,162.32 L524.00,162.35 L524.50,162.37 L525.00,162.39 L525.50,162.42 L526.00,162.44 L526.50,162.46 L527.00,162.48 L527.50,162.50 L528.00,162.52 L528.50,162.54 L529.00,162.56 L529.50,162.58 L530.00,162.60" fill="none" stroke="#ff3a3a" stroke-width="1.8" stroke-linejoin="round" stroke-linecap="round" />
<path d="M305.00,152.10 L305.50,152.10 L306.00,152.10 L306.50,152.10 L307.00,152.09 L307.50,152.09 L308.00,152.09 L308.50,152.09 L309.00,152.08 L309.50,152.08 L310.00,152.07 L310.50,152.07 L311.00,152.06 L311.50,152.06 L312.00,152.05 L312.50,152.04 L313.00,152.04 L313.50,152.03 L314.00,152.02 L314.50,152.01 L315.00,152.01 L315.50,152.00 L316.00,151.99 L316.50,151.98 L317.00,151.97 L317.50,151.96 L318.00,151.95 L318.50,151.94 L319.00,151.93 L319.50,151.92 L320.00,151.91 L320.50,151.89 L321.00,151.88 L321.50,151.87 L322.00,151.86 L322.50,151.85 L323.00,151.83 L323.50,151.82 L324.00,151.81 L324.50,151.79 L325.00,151.78 L325.50,151.76 L326.00,151.75 L326.50,151.74 L327.00,151.72 L327.50,151.71 L328.00,151.69 L328.50,151.68 L329.00,151.66 L329.50,151.65 L330.00,151.63 L330.50,151.62 L331.00,151.60 L331.50,151.58 L332.00,151.57 L332.50,151.55 L333.00,151.53 L333.50,151.52 L334.00,151.50 L334.50,151.49 L335.00,151.47 L335.50,151.45 L336.00,151.44 L336.50,151.42 L337.00,151.40 L337.50,151.38 L338.00,151.37 L338.50,151.35 L339.00,151.33 L339.50,151.32 L340.00,151.30 L340.50,151.28 L341.00,151.27 L341.50,151.25 L342.00,151.23 L342.50,151.21 L343.00,151.19 L343.50,151.17 L344.00,151.15 L344.50,151.13 L345.00,151.11 L345.50,151.09 L346.00,151.06 L346.50,151.04 L347.00,151.02 L347.50,150.99 L348.00,150.97 L348.50,150.95 L349.00,150.92 L349.50,150.90 L350.00,150.87 L350.50,150.84 L351.00,150.82 L351.50,150.79 L352.00,150.76 L352.50,150.74 L353.00,150.71 L353.50,150.68 L354.00,150.65 L354.50,150.62 L355.00,150.59 L355.50,150.56 L356.00,150.53 L356.50,150.50 L357.00,150.46 L357.50,150.43 L358.00,150.40 L358.50,150.37 L359.00,150.33 L359.50,150.30 L360.00,150.26 L360.50,150.23 L361.00,150.19 L361.50,150.16 L362.00,150.12 L362.50,150.08 L363.00,150.05 L363.50,150.01 L364.00,149.97 L364.50,149.93 L365.00,149.89 L365.50,149.85 L366.00,149.81 L366.50,149.77 L367.00,149.73 L367.50,149.69 L368.00,149.65 L368.50,149.60 L369.00,149.56 L369.50,149.52 L370.00,149.47 L370.50,149.43 L371.00,149.38 L371.50,149.34 L372.00,149.29 L372.50,149.25 L373.00,149.20 L373.50,149.15 L374.00,149.11 L374.50,149.06 L375.00,149.01 L375.50,148.96 L376.00,148.91 L376.50,148.86 L377.00,148.81 L377.50,148.76 L378.00,148.71 L378.50,148.66 L379.00,148.61 L379.50,148.55 L380.00,148.50 L380.50,148.45 L381.00,148.39 L381.50,148.34 L382.00,148.28 L382.50,148.23 L383.00,148.17 L383.50,148.11 L384.00,148.05 L384.50,147.99 L385.00,147.92 L385.50,147.85 L386.00,147.77 L386.50,147.69 L387.00,147.61 L387.50,147.52 L388.00,147.42 L388.50,147.32 L389.00,147.21 L389.50,147.10 L390.00,146.98 L390.50,146.85 L391.00,146.71 L391.50,146.57 L392.00,146.37 L392.50,146.09 L393.00,145.76 L393.50,145.37 L394.00,144.93 L394.50,144.45 L395.00,143.95 L395.50,143.43 L396.00,142.89 L396.50,142.35 L397.00,141.81 L397.50,141.29 L398.00,140.80 L398.50,140.33 L399.00,139.90 L399.50,139.50 L400.00,139.09 L400.50,138.69 L401.00,138.29 L401.50,137.90 L402.00,137.50 L402.50,137.11 L403.00,136.73 L403.50,136.34 L404.00,135.96 L404.50,135.59 L405.00,135.22 L405.50,134.86 L406.00,134.50 L406.50,134.15 L407.00,133.80 L407.50,133.46 L408.00,133.13 L408.50,132.80 L409.00,132.48 L409.50,132.18 L410.00,131.88 L410.50,131.60 L411.00,131.32 L411.50,131.04 L412.00,130.77 L412.50,130.50 L413.00,130.22 L413.50,129.95 L414.00,129.67 L414.50,129.39 L415.00,129.10 L415.50,128.81 L416.00,128.50 L416.50,128.18 L417.00,127.85 L417.50,127.51 L418.00,127.16 L418.50,126.81 L419.00,126.47 L419.50,126.13 L420.00,125.80 L420.50,125.50 L421.00,125.23 L421.50,124.98 L422.00,124.72 L422.50,124.43 L423.00,124.09 L423.50,123.69 L424.00,123.17 L424.50,122.46 L425.00,121.57 L425.50,120.51 L426.00,119.31 L426.50,118.00 L427.00,116.17 L427.50,113.92 L428.00,112.00 L428.50,110.60 L429.00,109.37 L429.50,108.27 L430.00,107.23 L430.50,106.21 L431.00,105.13 L431.50,103.95 L432.00,102.66 L432.50,101.29 L433.00,99.91 L433.50,98.55 L434.00,97.27 L434.50,96.11 L435.00,95.05 L435.50,93.99 L436.00,93.00 L436.50,92.17 L437.00,91.58 L437.50,91.21 L438.00,90.88 L438.50,90.57 L439.00,90.29 L439.50,90.06 L440.00,89.86 L440.50,89.72 L441.00,89.63 L441.50,89.60 L442.00,89.67 L442.50,89.87 L443.00,90.16 L443.50,90.52 L444.00,90.91 L444.50,91.30 L445.00,91.67 L445.50,91.98 L446.00,92.20 L446.50,92.30 L447.00,92.26 L447.50,92.09 L448.00,91.81 L448.50,91.43 L449.00,90.99 L449.50,90.48 L450.00,89.95 L450.50,89.38 L451.00,88.72 L451.50,87.89 L452.00,86.89 L452.50,85.70 L453.00,84.31 L453.50,82.70 L454.00,80.19 L454.50,76.61 L455.00,72.76 L455.50,69.38 L456.00,66.32 L456.50,63.35 L457.00,60.55 L457.50,58.00 L458.00,55.72 L458.50,53.63 L459.00,51.66 L459.50,49.74 L460.00,47.80 L460.50,45.77 L461.00,43.63 L461.50,41.43 L462.00,39.25 L462.50,37.16 L463.00,35.22 L463.50,33.50 L464.00,31.79 L464.50,30.05 L465.00,28.61 L465.50,27.78 L466.00,27.85 L466.50,28.69 L467.00,30.06 L467.50,31.74 L468.00,33.50 L468.50,35.53 L469.00,38.07 L469.50,40.97 L470.00,44.08 L470.50,47.23 L471.00,50.58 L471.50,54.20 L472.00,58.02 L472.50,62.00 L473.00,66.27 L473.50,70.85 L474.00,75.50 L474.50,80.00 L475.00,84.40 L475.50,88.82 L476.00,93.14 L476.50,97.24 L477.00,101.00 L477.50,104.42 L478.00,107.61 L478.50,110.64 L479.00,113.55 L479.50,116.38 L480.00,119.20 L480.50,122.06 L481.00,125.00 L481.50,128.11 L482.00,131.28 L482.50,134.32 L483.00,137.00 L483.50,139.39 L484.00,141.67 L484.50,143.81 L485.00,145.77 L485.50,147.51 L486.00,149.00 L486.50,150.34 L487.00,151.62 L487.50,152.83 L488.00,153.95 L488.50,154.94 L489.00,155.80 L489.50,156.49 L490.00,157.00 L490.50,157.40 L491.00,157.76 L491.50,158.10 L492.00,158.40 L492.50,158.68 L493.00,158.92 L493.50,159.12 L494.00,159.28 L494.50,159.41 L495.00,159.50 L495.50,159.57 L496.00,159.63 L496.50,159.68 L497.00,159.74 L497.50,159.79 L498.00,159.83 L498.50,159.88 L499.00,159.92 L499.50,159.96 L500.00,159.99 L500.50,160.02 L501.00,160.06 L501.50,160.09 L502.00,160.11 L502.50,160.14 L503.00,160.16 L503.50,160.19 L504.00,160.21 L504.50,160.23 L505.00,160.26 L505.50,160.28 L506.00,160.30 L506.50,160.32 L507.00,160.34 L507.50,160.37 L508.00,160.39 L508.50,160.42 L509.00,160.44 L509.50,160.47 L510.00,160.50 L510.50,160.53 L511.00,160.56 L511.50,160.59 L512.00,160.62 L512.50,160.65 L513.00,160.68 L513.50,160.71 L514.00,160.74 L514.50,160.77 L515.00,160.80 L515.50,160.83 L516.00,160.85 L516.50,160.88 L517.00,160.91 L517.50,160.94 L518.00,160.97 L518.50,161.00 L519.00,161.02 L519.50,161.05 L520.00,161.08 L520.50,161.11 L521.00,161.14 L521.50,161.16 L522.00,161.19 L522.50,161.22 L523.00,161.24 L523.50,161.27 L524.00,161.30 L524.50,161.32 L525.00,161.35 L525.50,161.37 L526.00,161.40 L526.50,161.43 L527.00,161.45 L527.50,161.48 L528.00,161.50 L528.50,161.53 L529.00,161.55 L529.50,161.58 L530.00,161.60" fill="none" stroke="#b55cf0" stroke-width="1.9" stroke-linejoin="round" stroke-linecap="round" />
<text x="492.5" y="32.8" font-family="Liberation Serif" font-weight="bold" font-size="9.5" fill="#ff2020" stroke="#ff2020" stroke-width="0.3" text-anchor="start" >C-C</text>
<line x1="491" y1="31.5" x2="470.4" y2="37.8" stroke="#ff2020" stroke-width="1.0"/>
<path d="M470.40,37.80 L474.12,34.57 L475.29,38.40 Z" fill="#ff2020"/>
<text x="401" y="90.3" font-family="Liberation Serif" font-weight="bold" font-size="9.5" fill="#2222ee" stroke="#2222ee" stroke-width="0.3" text-anchor="start" >C-O</text>
<line x1="412.3" y1="92.4" x2="433.2" y2="100.9" stroke="#2222ee" stroke-width="1.0"/>
<path d="M433.20,100.90 L428.28,101.06 L429.79,97.35 Z" fill="#2222ee"/>
<text x="371.3" y="123.6" font-family="Liberation Serif" font-weight="bold" font-size="9.5" fill="#0d9a2e" stroke="#0d9a2e" stroke-width="0.3" text-anchor="start" >O-C=O</text>
<line x1="392.4" y1="126.6" x2="408.5" y2="142.7" stroke="#0d9a2e" stroke-width="1.0"/>
<path d="M408.50,142.70 L403.90,140.93 L406.73,138.10 Z" fill="#0d9a2e"/>
<path d="M29.8,248.9 H261.8 V436 H29.8 Z" fill="none" stroke="#4a4a4a" stroke-width="1.5"/>
<line x1="29.80" y1="436" x2="29.80" y2="439.5" stroke="#4a4a4a" stroke-width="1.2"/>
<line x1="53.00" y1="436" x2="53.00" y2="438" stroke="#4a4a4a" stroke-width="1.1"/>
<text x="29.80" y="450.6" font-family="Liberation Serif" font-weight="bold" font-size="9.7" fill="#111" stroke="#111" stroke-width="0.3" text-anchor="middle" >538</text>
<line x1="76.20" y1="436" x2="76.20" y2="439.5" stroke="#4a4a4a" stroke-width="1.2"/>
<line x1="99.40" y1="436" x2="99.40" y2="438" stroke="#4a4a4a" stroke-width="1.1"/>
<text x="76.20" y="450.6" font-family="Liberation Serif" font-weight="bold" font-size="9.7" fill="#111" stroke="#111" stroke-width="0.3" text-anchor="middle" >536</text>
<line x1="122.60" y1="436" x2="122.60" y2="439.5" stroke="#4a4a4a" stroke-width="1.2"/>
<line x1="145.80" y1="436" x2="145.80" y2="438" stroke="#4a4a4a" stroke-width="1.1"/>
<text x="122.60" y="450.6" font-family="Liberation Serif" font-weight="bold" font-size="9.7" fill="#111" stroke="#111" stroke-width="0.3" text-anchor="middle" >534</text>
<line x1="169.00" y1="436" x2="169.00" y2="439.5" stroke="#4a4a4a" stroke-width="1.2"/>
<line x1="192.20" y1="436" x2="192.20" y2="438" stroke="#4a4a4a" stroke-width="1.1"/>
<text x="169.00" y="450.6" font-family="Liberation Serif" font-weight="bold" font-size="9.7" fill="#111" stroke="#111" stroke-width="0.3" text-anchor="middle" >532</text>
<line x1="215.40" y1="436" x2="215.40" y2="439.5" stroke="#4a4a4a" stroke-width="1.2"/>
<line x1="238.60" y1="436" x2="238.60" y2="438" stroke="#4a4a4a" stroke-width="1.1"/>
<text x="215.40" y="450.6" font-family="Liberation Serif" font-weight="bold" font-size="9.7" fill="#111" stroke="#111" stroke-width="0.3" text-anchor="middle" >530</text>
<line x1="261.80" y1="436" x2="261.80" y2="439.5" stroke="#4a4a4a" stroke-width="1.2"/>
<text x="261.80" y="450.6" font-family="Liberation Serif" font-weight="bold" font-size="9.7" fill="#111" stroke="#111" stroke-width="0.3" text-anchor="middle" >528</text>
<text x="8" y="259.6" font-family="Liberation Serif" font-weight="bold" font-size="9.5" fill="#000" stroke="#000" stroke-width="0.3" text-anchor="start" >(c)</text>
<text x="0" y="0" font-family="Liberation Serif" font-weight="bold" font-size="11.4" fill="#000" stroke="#000" stroke-width="0.3" text-anchor="middle" transform="translate(15.8,341.4) rotate(-90)">Intensity (Arb. unit)</text>
<text x="145.8" y="467.6" font-family="Liberation Serif" font-weight="bold" font-size="11.4" fill="#000" stroke="#000" stroke-width="0.3" text-anchor="middle" >Binding Energy (eV)</text>
<text x="37.6" y="264.4" font-family="Liberation Serif" font-weight="bold" font-size="9.5" fill="#000" stroke="#000" stroke-width="0.3" text-anchor="start" >O 1s</text>
<line x1="30" y1="398.2" x2="261.5" y2="408.6" stroke="#ff9ad8" stroke-width="1.8"/>
<path d="M30.00,398.77 L31.00,397.84 L32.00,397.70 L33.00,397.81 L34.00,397.73 L35.00,397.47 L36.00,397.22 L37.00,397.57 L38.00,398.49 L39.00,399.31 L40.00,398.92 L41.00,398.16 L42.00,397.78 L43.00,397.54 L44.00,397.49 L45.00,397.81 L46.00,398.18 L47.00,398.36 L48.00,398.44 L49.00,398.36 L50.00,398.53 L51.00,398.83 L52.00,398.57 L53.00,398.10 L54.00,398.16 L55.00,398.68 L56.00,398.88 L57.00,398.44 L58.00,398.18 L59.00,398.14 L60.00,397.88 L61.00,397.98 L62.00,398.38 L63.00,398.46 L64.00,398.21 L65.00,397.65 L66.00,397.17 L67.00,397.37 L68.00,397.24 L69.00,397.14 L70.00,397.68 L71.00,397.95 L72.00,397.59 L73.00,397.34 L74.00,397.61 L75.00,398.10 L76.00,398.52 L77.00,398.50 L78.00,398.33 L79.00,398.16 L80.00,397.71 L81.00,397.49 L82.00,397.77 L83.00,397.84 L84.00,397.46 L85.00,397.10 L86.00,396.78 L87.00,396.59 L88.00,397.03 L89.00,397.07 L90.00,396.61 L91.00,396.52 L92.00,396.58 L93.00,396.39 L94.00,395.89 L95.00,396.01 L96.00,396.55 L97.00,396.25 L98.00,395.34 L99.00,395.12 L100.00,395.26 L101.00,395.23 L102.00,394.98 L103.00,394.25 L104.00,393.56 L105.00,393.16 L106.00,392.96 L107.00,392.25 L108.00,391.24 L109.00,390.83 L110.00,391.11 L111.00,390.98 L112.00,390.45 L113.00,389.76 L114.00,388.70 L115.00,387.50 L116.00,386.64 L117.00,386.28 L118.00,385.83 L119.00,384.75 L120.00,383.90 L121.00,383.45 L122.00,382.94 L123.00,381.86 L124.00,380.23 L125.00,379.06 L126.00,378.76 L127.00,378.49 L128.00,377.59 L129.00,376.32 L130.00,375.17 L131.00,374.26 L132.00,373.41 L133.00,372.44 L134.00,371.27 L135.00,370.30 L136.00,369.52 L137.00,368.85 L138.00,368.44 L139.00,368.17 L140.00,367.25 L141.00,365.52 L142.00,363.66 L143.00,362.67 L144.00,362.14 L145.00,361.36 L146.00,360.60 L147.00,360.49 L148.00,359.87 L149.00,358.42 L150.00,357.31 L151.00,356.81 L152.00,356.64 L153.00,356.57 L154.00,356.11 L155.00,355.12 L156.00,354.33 L157.00,353.91 L158.00,353.60 L159.00,352.98 L160.00,351.95 L161.00,350.75 L162.00,350.04 L163.00,349.99 L164.00,350.23 L165.00,349.86 L166.00,348.98 L167.00,348.27 L168.00,347.66 L169.00,346.81 L170.00,346.34 L171.00,346.63 L172.00,346.71 L173.00,345.86 L174.00,344.90 L175.00,344.37 L176.00,344.47 L177.00,345.08 L178.00,345.39 L179.00,345.25 L180.00,345.12 L181.00,345.00 L182.00,344.67 L183.00,344.35 L184.00,344.54 L185.00,344.81 L186.00,344.76 L187.00,344.69 L188.00,344.76 L189.00,345.03 L190.00,345.14 L191.00,344.79 L192.00,344.53 L193.00,344.47 L194.00,344.12 L195.00,342.71 L196.00,340.29 L197.00,337.98 L198.00,335.29 L199.00,331.95 L200.00,328.46 L201.00,324.62 L202.00,320.13 L203.00,315.03 L204.00,309.48 L205.00,303.90 L206.00,299.19 L207.00,295.18 L208.00,291.69 L209.00,288.86 L210.00,286.00 L211.00,282.89 L212.00,279.71 L213.00,277.27 L214.00,275.78 L215.00,274.77 L216.00,274.02 L217.00,273.91 L218.00,274.86 L219.00,276.65 L220.00,278.81 L221.00,281.85 L222.00,285.79 L223.00,290.64 L224.00,295.96 L225.00,301.68 L226.00,308.15 L227.00,315.19 L228.00,322.49 L229.00,329.75 L230.00,336.71 L231.00,342.77 L232.00,348.02 L233.00,352.63 L234.00,357.25 L235.00,362.34 L236.00,367.77 L237.00,373.58 L238.00,379.18 L239.00,384.02 L240.00,388.06 L241.00,391.52 L242.00,394.36 L243.00,396.53 L244.00,398.33 L245.00,399.80 L246.00,400.80 L247.00,401.48 L248.00,401.99 L249.00,402.35 L250.00,402.66 L251.00,403.33 L252.00,404.26 L253.00,405.29 L254.00,405.57 L255.00,405.29 L256.00,405.58 L257.00,405.96 L258.00,406.19 L259.00,406.48 L260.00,406.25 L261.00,405.73" fill="none" stroke="#333" stroke-width="1.1"/>
<path d="M30.00,398.20 L30.50,398.20 L31.00,398.20 L31.50,398.20 L32.00,398.20 L32.50,398.20 L33.00,398.20 L33.50,398.20 L34.00,398.20 L34.50,398.20 L35.00,398.20 L35.50,398.20 L36.00,398.20 L36.50,398.20 L37.00,398.20 L37.50,398.20 L38.00,398.20 L38.50,398.20 L39.00,398.20 L39.50,398.20 L40.00,398.20 L40.50,398.20 L41.00,398.20 L41.50,398.20 L42.00,398.20 L42.50,398.20 L43.00,398.20 L43.50,398.20 L44.00,398.20 L44.50,398.20 L45.00,398.20 L45.50,398.20 L46.00,398.20 L46.50,398.20 L47.00,398.20 L47.50,398.20 L48.00,398.20 L48.50,398.20 L49.00,398.20 L49.50,398.20 L50.00,398.20 L50.50,398.20 L51.00,398.20 L51.50,398.20 L52.00,398.20 L52.50,398.20 L53.00,398.20 L53.50,398.20 L54.00,398.20 L54.50,398.20 L55.00,398.20 L55.50,398.20 L56.00,398.20 L56.50,398.20 L57.00,398.20 L57.50,398.20 L58.00,398.20 L58.50,398.20 L59.00,398.20 L59.50,398.20 L60.00,398.20 L60.50,398.20 L61.00,398.20 L61.50,398.20 L62.00,398.20 L62.50,398.20 L63.00,398.20 L63.50,398.20 L64.00,398.20 L64.50,398.20 L65.00,398.20 L65.50,398.20 L66.00,398.20 L66.50,398.20 L67.00,398.20 L67.50,398.20 L68.00,398.20 L68.50,398.20 L69.00,398.20 L69.50,398.20 L70.00,398.20 L70.50,398.20 L71.00,398.20 L71.50,398.20 L72.00,398.20 L72.50,398.20 L73.00,398.20 L73.50,398.20 L74.00,398.20 L74.50,398.20 L75.00,398.20 L75.50,398.20 L76.00,398.20 L76.50,398.20 L77.00,398.20 L77.50,398.20 L78.00,398.20 L78.50,398.20 L79.00,398.20 L79.50,398.20 L80.00,398.20 L80.50,398.20 L81.00,398.19 L81.50,398.19 L82.00,398.18 L82.50,398.17 L83.00,398.15 L83.50,398.14 L84.00,398.12 L84.50,398.10 L85.00,398.07 L85.50,398.05 L86.00,398.02 L86.50,397.99 L87.00,397.96 L87.50,397.93 L88.00,397.89 L88.50,397.85 L89.00,397.81 L89.50,397.77 L90.00,397.73 L90.50,397.69 L91.00,397.64 L91.50,397.59 L92.00,397.54 L92.50,397.49 L93.00,397.44 L93.50,397.39 L94.00,397.33 L94.50,397.27 L95.00,397.22 L95.50,397.16 L96.00,397.10 L96.50,397.04 L97.00,396.97 L97.50,396.91 L98.00,396.84 L98.50,396.78 L99.00,396.71 L99.50,396.65 L100.00,396.58 L100.50,396.51 L101.00,396.44 L101.50,396.37 L102.00,396.30 L102.50,396.23 L103.00,396.16 L103.50,396.07 L104.00,395.98 L104.50,395.88 L105.00,395.76 L105.50,395.64 L106.00,395.52 L106.50,395.38 L107.00,395.24 L107.50,395.09 L108.00,394.93 L108.50,394.77 L109.00,394.59 L109.50,394.40 L110.00,394.20 L110.50,393.98 L111.00,393.74 L111.50,393.50 L112.00,393.24 L112.50,392.98 L113.00,392.70 L113.50,392.42 L114.00,392.12 L114.50,391.82 L115.00,391.52 L115.50,391.21 L116.00,390.89 L116.50,390.57 L117.00,390.25 L117.50,389.93 L118.00,389.60 L118.50,389.26 L119.00,388.90 L119.50,388.52 L120.00,388.13 L120.50,387.73 L121.00,387.32 L121.50,386.90 L122.00,386.48 L122.50,386.05 L123.00,385.62 L123.50,385.19 L124.00,384.76 L124.50,384.33 L125.00,383.91 L125.50,383.49 L126.00,383.08 L126.50,382.68 L127.00,382.27 L127.50,381.86 L128.00,381.44 L128.50,381.03 L129.00,380.61 L129.50,380.20 L130.00,379.79 L130.50,379.37 L131.00,378.97 L131.50,378.56 L132.00,378.17 L132.50,377.78 L133.00,377.39 L133.50,377.02 L134.00,376.65 L134.50,376.30 L135.00,375.95 L135.50,375.58 L136.00,375.22 L136.50,374.86 L137.00,374.50 L137.50,374.16 L138.00,373.83 L138.50,373.52 L139.00,373.23 L139.50,372.97 L140.00,372.75 L140.50,372.57 L141.00,372.39 L141.50,372.22 L142.00,372.05 L142.50,371.89 L143.00,371.73 L143.50,371.59 L144.00,371.45 L144.50,371.33 L145.00,371.23 L145.50,371.14 L146.00,371.07 L146.50,371.03 L147.00,371.00 L147.50,371.00 L148.00,371.02 L148.50,371.06 L149.00,371.11 L149.50,371.17 L150.00,371.25 L150.50,371.34 L151.00,371.43 L151.50,371.54 L152.00,371.65 L152.50,371.77 L153.00,371.89 L153.50,372.02 L154.00,372.15 L154.50,372.28 L155.00,372.44 L155.50,372.63 L156.00,372.84 L156.50,373.07 L157.00,373.32 L157.50,373.59 L158.00,373.87 L158.50,374.16 L159.00,374.46 L159.50,374.77 L160.00,375.09 L160.50,375.40 L161.00,375.73 L161.50,376.09 L162.00,376.47 L162.50,376.86 L163.00,377.28 L163.50,377.70 L164.00,378.13 L164.50,378.57 L165.00,379.00 L165.50,379.44 L166.00,379.91 L166.50,380.39 L167.00,380.87 L167.50,381.37 L168.00,381.86 L168.50,382.34 L169.00,382.81 L169.50,383.27 L170.00,383.70 L170.50,384.11 L171.00,384.50 L171.50,384.88 L172.00,385.24 L172.50,385.61 L173.00,385.97 L173.50,386.34 L174.00,386.71 L174.50,387.10 L175.00,387.50 L175.50,387.92 L176.00,388.35 L176.50,388.79 L177.00,389.24 L177.50,389.69 L178.00,390.15 L178.50,390.61 L179.00,391.06 L179.50,391.52 L180.00,391.96 L180.50,392.41 L181.00,392.84 L181.50,393.26 L182.00,393.66 L182.50,394.05 L183.00,394.42 L183.50,394.77 L184.00,395.10 L184.50,395.41 L185.00,395.72 L185.50,396.02 L186.00,396.31 L186.50,396.60 L187.00,396.88 L187.50,397.15 L188.00,397.42 L188.50,397.68 L189.00,397.93 L189.50,398.18 L190.00,398.42 L190.50,398.65 L191.00,398.88 L191.50,399.10 L192.00,399.31 L192.50,399.51 L193.00,399.71 L193.50,399.90 L194.00,400.08 L194.50,400.26 L195.00,400.43 L195.50,400.60 L196.00,400.76 L196.50,400.91 L197.00,401.06 L197.50,401.21 L198.00,401.35 L198.50,401.50 L199.00,401.63 L199.50,401.77 L200.00,401.91 L200.50,402.04 L201.00,402.17 L201.50,402.30 L202.00,402.44 L202.50,402.57 L203.00,402.70 L203.50,402.83 L204.00,402.97 L204.50,403.10 L205.00,403.24 L205.50,403.37 L206.00,403.51 L206.50,403.64 L207.00,403.77 L207.50,403.91 L208.00,404.04 L208.50,404.17 L209.00,404.30 L209.50,404.42 L210.00,404.54 L210.50,404.66 L211.00,404.78 L211.50,404.90 L212.00,405.01 L212.50,405.12 L213.00,405.22 L213.50,405.32 L214.00,405.42 L214.50,405.51 L215.00,405.60 L215.50,405.68 L216.00,405.77 L216.50,405.85 L217.00,405.94 L217.50,406.02 L218.00,406.10 L218.50,406.18 L219.00,406.26 L219.50,406.34 L220.00,406.42 L220.50,406.50 L221.00,406.57 L221.50,406.65 L222.00,406.72 L222.50,406.80 L223.00,406.87 L223.50,406.94 L224.00,407.01 L224.50,407.08 L225.00,407.14 L225.50,407.21 L226.00,407.27 L226.50,407.33 L227.00,407.39 L227.50,407.45 L228.00,407.50 L228.50,407.56 L229.00,407.61 L229.50,407.66 L230.00,407.70 L230.50,407.75 L231.00,407.79 L231.50,407.83 L232.00,407.87 L232.50,407.91 L233.00,407.94 L233.50,407.97 L234.00,408.00 L234.50,408.03 L235.00,408.05 L235.50,408.08 L236.00,408.11 L236.50,408.13 L237.00,408.16 L237.50,408.18 L238.00,408.21 L238.50,408.23 L239.00,408.26 L239.50,408.28 L240.00,408.31 L240.50,408.33 L241.00,408.35 L241.50,408.38 L242.00,408.40 L242.50,408.42 L243.00,408.45 L243.50,408.47 L244.00,408.49 L244.50,408.51 L245.00,408.53 L245.50,408.55 L246.00,408.57 L246.50,408.59 L247.00,408.61 L247.50,408.63 L248.00,408.64 L248.50,408.66 L249.00,408.68 L249.50,408.69 L250.00,408.71 L250.50,408.73 L251.00,408.74 L251.50,408.75 L252.00,408.77 L252.50,408.78 L253.00,408.79 L253.50,408.80 L254.00,408.82 L254.50,408.83 L255.00,408.84 L255.50,408.85 L256.00,408.85 L256.50,408.86 L257.00,408.87 L257.50,408.88 L258.00,408.88 L258.50,408.89 L259.00,408.89 L259.50,408.89 L260.00,408.90 L260.50,408.90 L261.00,408.90 L261.50,408.90" fill="none" stroke="#1ea85a" stroke-width="1.8" stroke-linejoin="round" stroke-linecap="round" />
<path d="M30.00,398.20 L30.50,398.21 L31.00,398.22 L31.50,398.23 L32.00,398.25 L32.50,398.26 L33.00,398.27 L33.50,398.28 L34.00,398.29 L34.50,398.30 L35.00,398.31 L35.50,398.32 L36.00,398.33 L36.50,398.34 L37.00,398.35 L37.50,398.35 L38.00,398.36 L38.50,398.37 L39.00,398.38 L39.50,398.39 L40.00,398.40 L40.50,398.40 L41.00,398.41 L41.50,398.42 L42.00,398.42 L42.50,398.43 L43.00,398.44 L43.50,398.44 L44.00,398.45 L44.50,398.46 L45.00,398.46 L45.50,398.47 L46.00,398.47 L46.50,398.48 L47.00,398.49 L47.50,398.49 L48.00,398.50 L48.50,398.50 L49.00,398.50 L49.50,398.51 L50.00,398.51 L50.50,398.52 L51.00,398.52 L51.50,398.53 L52.00,398.53 L52.50,398.53 L53.00,398.54 L53.50,398.54 L54.00,398.54 L54.50,398.55 L55.00,398.55 L55.50,398.55 L56.00,398.56 L56.50,398.56 L57.00,398.56 L57.50,398.56 L58.00,398.57 L58.50,398.57 L59.00,398.57 L59.50,398.57 L60.00,398.57 L60.50,398.58 L61.00,398.58 L61.50,398.58 L62.00,398.58 L62.50,398.58 L63.00,398.58 L63.50,398.59 L64.00,398.59 L64.50,398.59 L65.00,398.59 L65.50,398.59 L66.00,398.59 L66.50,398.59 L67.00,398.59 L67.50,398.59 L68.00,398.59 L68.50,398.60 L69.00,398.60 L69.50,398.60 L70.00,398.60 L70.50,398.60 L71.00,398.60 L71.50,398.60 L72.00,398.60 L72.50,398.60 L73.00,398.60 L73.50,398.60 L74.00,398.60 L74.50,398.60 L75.00,398.60 L75.50,398.60 L76.00,398.60 L76.50,398.60 L77.00,398.60 L77.50,398.60 L78.00,398.60 L78.50,398.60 L79.00,398.60 L79.50,398.60 L80.00,398.60 L80.50,398.60 L81.00,398.60 L81.50,398.59 L82.00,398.59 L82.50,398.59 L83.00,398.58 L83.50,398.57 L84.00,398.56 L84.50,398.55 L85.00,398.54 L85.50,398.53 L86.00,398.52 L86.50,398.51 L87.00,398.49 L87.50,398.48 L88.00,398.46 L88.50,398.44 L89.00,398.42 L89.50,398.40 L90.00,398.38 L90.50,398.36 L91.00,398.34 L91.50,398.32 L92.00,398.30 L92.50,398.27 L93.00,398.25 L93.50,398.22 L94.00,398.20 L94.50,398.17 L95.00,398.14 L95.50,398.11 L96.00,398.08 L96.50,398.05 L97.00,398.02 L97.50,397.99 L98.00,397.96 L98.50,397.93 L99.00,397.90 L99.50,397.87 L100.00,397.83 L100.50,397.80 L101.00,397.76 L101.50,397.73 L102.00,397.69 L102.50,397.66 L103.00,397.62 L103.50,397.59 L104.00,397.55 L104.50,397.51 L105.00,397.48 L105.50,397.44 L106.00,397.40 L106.50,397.36 L107.00,397.32 L107.50,397.28 L108.00,397.24 L108.50,397.19 L109.00,397.14 L109.50,397.09 L110.00,397.02 L110.50,396.96 L111.00,396.89 L111.50,396.82 L112.00,396.75 L112.50,396.67 L113.00,396.59 L113.50,396.51 L114.00,396.43 L114.50,396.34 L115.00,396.25 L115.50,396.17 L116.00,396.08 L116.50,395.98 L117.00,395.89 L117.50,395.80 L118.00,395.71 L118.50,395.61 L119.00,395.52 L119.50,395.43 L120.00,395.34 L120.50,395.25 L121.00,395.16 L121.50,395.07 L122.00,394.98 L122.50,394.90 L123.00,394.81 L123.50,394.72 L124.00,394.64 L124.50,394.55 L125.00,394.47 L125.50,394.38 L126.00,394.29 L126.50,394.20 L127.00,394.11 L127.50,394.02 L128.00,393.93 L128.50,393.84 L129.00,393.75 L129.50,393.65 L130.00,393.55 L130.50,393.46 L131.00,393.36 L131.50,393.26 L132.00,393.15 L132.50,393.05 L133.00,392.94 L133.50,392.83 L134.00,392.72 L134.50,392.60 L135.00,392.48 L135.50,392.36 L136.00,392.24 L136.50,392.11 L137.00,391.98 L137.50,391.85 L138.00,391.71 L138.50,391.57 L139.00,391.43 L139.50,391.29 L140.00,391.14 L140.50,390.99 L141.00,390.83 L141.50,390.68 L142.00,390.52 L142.50,390.36 L143.00,390.19 L143.50,390.02 L144.00,389.85 L144.50,389.68 L145.00,389.50 L145.50,389.32 L146.00,389.14 L146.50,388.96 L147.00,388.77 L147.50,388.58 L148.00,388.39 L148.50,388.20 L149.00,387.99 L149.50,387.79 L150.00,387.58 L150.50,387.36 L151.00,387.14 L151.50,386.90 L152.00,386.67 L152.50,386.42 L153.00,386.16 L153.50,385.90 L154.00,385.62 L154.50,385.34 L155.00,385.04 L155.50,384.74 L156.00,384.41 L156.50,384.05 L157.00,383.67 L157.50,383.27 L158.00,382.85 L158.50,382.40 L159.00,381.93 L159.50,381.45 L160.00,380.94 L160.50,380.42 L161.00,379.89 L161.50,379.34 L162.00,378.77 L162.50,378.14 L163.00,377.46 L163.50,376.74 L164.00,376.00 L164.50,375.25 L165.00,374.50 L165.50,373.74 L166.00,372.95 L166.50,372.14 L167.00,371.31 L167.50,370.47 L168.00,369.62 L168.50,368.78 L169.00,367.96 L169.50,367.15 L170.00,366.36 L170.50,365.61 L171.00,364.90 L171.50,364.24 L172.00,363.57 L172.50,362.90 L173.00,362.23 L173.50,361.58 L174.00,360.94 L174.50,360.32 L175.00,359.73 L175.50,359.18 L176.00,358.66 L176.50,358.19 L177.00,357.78 L177.50,357.42 L178.00,357.12 L178.50,356.83 L179.00,356.54 L179.50,356.25 L180.00,355.98 L180.50,355.72 L181.00,355.47 L181.50,355.24 L182.00,355.03 L182.50,354.84 L183.00,354.67 L183.50,354.53 L184.00,354.42 L184.50,354.35 L185.00,354.31 L185.50,354.30 L186.00,354.33 L186.50,354.40 L187.00,354.49 L187.50,354.62 L188.00,354.76 L188.50,354.94 L189.00,355.13 L189.50,355.34 L190.00,355.56 L190.50,355.80 L191.00,356.05 L191.50,356.31 L192.00,356.57 L192.50,356.84 L193.00,357.11 L193.50,357.44 L194.00,357.81 L194.50,358.24 L195.00,358.72 L195.50,359.23 L196.00,359.77 L196.50,360.34 L197.00,360.93 L197.50,361.53 L198.00,362.14 L198.50,362.75 L199.00,363.36 L199.50,363.96 L200.00,364.55 L200.50,365.11 L201.00,365.67 L201.50,366.23 L202.00,366.79 L202.50,367.35 L203.00,367.92 L203.50,368.50 L204.00,369.08 L204.50,369.67 L205.00,370.27 L205.50,370.87 L206.00,371.49 L206.50,372.12 L207.00,372.76 L207.50,373.43 L208.00,374.12 L208.50,374.84 L209.00,375.56 L209.50,376.29 L210.00,377.02 L210.50,377.74 L211.00,378.44 L211.50,379.11 L212.00,379.75 L212.50,380.37 L213.00,380.98 L213.50,381.57 L214.00,382.15 L214.50,382.73 L215.00,383.30 L215.50,383.88 L216.00,384.47 L216.50,385.06 L217.00,385.66 L217.50,386.26 L218.00,386.86 L218.50,387.46 L219.00,388.06 L219.50,388.65 L220.00,389.23 L220.50,389.80 L221.00,390.36 L221.50,390.90 L222.00,391.42 L222.50,391.93 L223.00,392.41 L223.50,392.87 L224.00,393.30 L224.50,393.70 L225.00,394.08 L225.50,394.45 L226.00,394.81 L226.50,395.16 L227.00,395.50 L227.50,395.82 L228.00,396.14 L228.50,396.45 L229.00,396.75 L229.50,397.05 L230.00,397.33 L230.50,397.61 L231.00,397.88 L231.50,398.15 L232.00,398.41 L232.50,398.66 L233.00,398.91 L233.50,399.16 L234.00,399.40 L234.50,399.64 L235.00,399.87 L235.50,400.10 L236.00,400.33 L236.50,400.55 L237.00,400.77 L237.50,400.99 L238.00,401.20 L238.50,401.40 L239.00,401.60 L239.50,401.80 L240.00,401.99 L240.50,402.18 L241.00,402.36 L241.50,402.54 L242.00,402.71 L242.50,402.88 L243.00,403.04 L243.50,403.20 L244.00,403.35 L244.50,403.51 L245.00,403.65 L245.50,403.80 L246.00,403.94 L246.50,404.08 L247.00,404.22 L247.50,404.36 L248.00,404.49 L248.50,404.62 L249.00,404.74 L249.50,404.86 L250.00,404.98 L250.50,405.09 L251.00,405.20 L251.50,405.31 L252.00,405.41 L252.50,405.51 L253.00,405.60 L253.50,405.69 L254.00,405.78 L254.50,405.86 L255.00,405.95 L255.50,406.03 L256.00,406.11 L256.50,406.19 L257.00,406.26 L257.50,406.33 L258.00,406.40 L258.50,406.47 L259.00,406.53 L259.50,406.59 L260.00,406.65 L260.50,406.70 L261.00,406.75 L261.50,406.80" fill="none" stroke="#1f6ee8" stroke-width="1.8" stroke-linejoin="round" stroke-linecap="round" />
<path d="M30.00,398.20 L30.50,398.21 L31.00,398.22 L31.50,398.23 L32.00,398.24 L32.50,398.25 L33.00,398.25 L33.50,398.26 L34.00,398.27 L34.50,398.28 L35.00,398.29 L35.50,398.30 L36.00,398.31 L36.50,398.32 L37.00,398.33 L37.50,398.33 L38.00,398.34 L38.50,398.35 L39.00,398.36 L39.50,398.37 L40.00,398.38 L40.50,398.39 L41.00,398.40 L41.50,398.41 L42.00,398.42 L42.50,398.43 L43.00,398.43 L43.50,398.44 L44.00,398.45 L44.50,398.46 L45.00,398.47 L45.50,398.48 L46.00,398.49 L46.50,398.50 L47.00,398.51 L47.50,398.51 L48.00,398.52 L48.50,398.53 L49.00,398.54 L49.50,398.55 L50.00,398.56 L50.50,398.57 L51.00,398.58 L51.50,398.59 L52.00,398.60 L52.50,398.61 L53.00,398.61 L53.50,398.62 L54.00,398.63 L54.50,398.64 L55.00,398.65 L55.50,398.66 L56.00,398.67 L56.50,398.68 L57.00,398.69 L57.50,398.70 L58.00,398.70 L58.50,398.71 L59.00,398.72 L59.50,398.73 L60.00,398.74 L60.50,398.75 L61.00,398.76 L61.50,398.77 L62.00,398.78 L62.50,398.79 L63.00,398.79 L63.50,398.80 L64.00,398.81 L64.50,398.82 L65.00,398.83 L65.50,398.84 L66.00,398.85 L66.50,398.86 L67.00,398.87 L67.50,398.88 L68.00,398.88 L68.50,398.89 L69.00,398.90 L69.50,398.91 L70.00,398.92 L70.50,398.93 L71.00,398.94 L71.50,398.95 L72.00,398.96 L72.50,398.97 L73.00,398.97 L73.50,398.98 L74.00,398.99 L74.50,399.00 L75.00,399.01 L75.50,399.02 L76.00,399.03 L76.50,399.04 L77.00,399.05 L77.50,399.06 L78.00,399.06 L78.50,399.07 L79.00,399.08 L79.50,399.09 L80.00,399.10 L80.50,399.11 L81.00,399.12 L81.50,399.13 L82.00,399.14 L82.50,399.14 L83.00,399.15 L83.50,399.16 L84.00,399.17 L84.50,399.18 L85.00,399.19 L85.50,399.20 L86.00,399.21 L86.50,399.22 L87.00,399.22 L87.50,399.23 L88.00,399.24 L88.50,399.25 L89.00,399.26 L89.50,399.27 L90.00,399.28 L90.50,399.29 L91.00,399.29 L91.50,399.30 L92.00,399.31 L92.50,399.32 L93.00,399.33 L93.50,399.34 L94.00,399.35 L94.50,399.35 L95.00,399.36 L95.50,399.37 L96.00,399.38 L96.50,399.39 L97.00,399.40 L97.50,399.41 L98.00,399.41 L98.50,399.42 L99.00,399.43 L99.50,399.44 L100.00,399.45 L100.50,399.46 L101.00,399.47 L101.50,399.47 L102.00,399.48 L102.50,399.49 L103.00,399.50 L103.50,399.51 L104.00,399.52 L104.50,399.53 L105.00,399.54 L105.50,399.54 L106.00,399.55 L106.50,399.56 L107.00,399.57 L107.50,399.58 L108.00,399.59 L108.50,399.60 L109.00,399.61 L109.50,399.61 L110.00,399.62 L110.50,399.63 L111.00,399.64 L111.50,399.65 L112.00,399.66 L112.50,399.67 L113.00,399.68 L113.50,399.69 L114.00,399.70 L114.50,399.70 L115.00,399.71 L115.50,399.72 L116.00,399.73 L116.50,399.74 L117.00,399.75 L117.50,399.76 L118.00,399.77 L118.50,399.78 L119.00,399.79 L119.50,399.80 L120.00,399.81 L120.50,399.81 L121.00,399.82 L121.50,399.83 L122.00,399.84 L122.50,399.85 L123.00,399.86 L123.50,399.87 L124.00,399.88 L124.50,399.89 L125.00,399.90 L125.50,399.91 L126.00,399.92 L126.50,399.93 L127.00,399.94 L127.50,399.95 L128.00,399.96 L128.50,399.97 L129.00,399.98 L129.50,399.99 L130.00,400.00 L130.50,400.01 L131.00,400.02 L131.50,400.03 L132.00,400.04 L132.50,400.05 L133.00,400.06 L133.50,400.07 L134.00,400.08 L134.50,400.09 L135.00,400.10 L135.50,400.11 L136.00,400.11 L136.50,400.12 L137.00,400.13 L137.50,400.14 L138.00,400.15 L138.50,400.16 L139.00,400.17 L139.50,400.18 L140.00,400.19 L140.50,400.20 L141.00,400.20 L141.50,400.21 L142.00,400.22 L142.50,400.23 L143.00,400.24 L143.50,400.25 L144.00,400.26 L144.50,400.27 L145.00,400.28 L145.50,400.29 L146.00,400.30 L146.50,400.31 L147.00,400.32 L147.50,400.33 L148.00,400.34 L148.50,400.35 L149.00,400.36 L149.50,400.37 L150.00,400.38 L150.50,400.39 L151.00,400.40 L151.50,400.41 L152.00,400.42 L152.50,400.43 L153.00,400.44 L153.50,400.46 L154.00,400.47 L154.50,400.48 L155.00,400.49 L155.50,400.51 L156.00,400.52 L156.50,400.53 L157.00,400.55 L157.50,400.56 L158.00,400.57 L158.50,400.59 L159.00,400.60 L159.50,400.62 L160.00,400.63 L160.50,400.65 L161.00,400.66 L161.50,400.68 L162.00,400.69 L162.50,400.71 L163.00,400.73 L163.50,400.75 L164.00,400.76 L164.50,400.78 L165.00,400.80 L165.50,400.82 L166.00,400.85 L166.50,400.88 L167.00,400.91 L167.50,400.95 L168.00,400.98 L168.50,401.03 L169.00,401.07 L169.50,401.12 L170.00,401.16 L170.50,401.21 L171.00,401.26 L171.50,401.31 L172.00,401.36 L172.50,401.40 L173.00,401.45 L173.50,401.50 L174.00,401.54 L174.50,401.58 L175.00,401.62 L175.50,401.66 L176.00,401.69 L176.50,401.72 L177.00,401.75 L177.50,401.77 L178.00,401.78 L178.50,401.79 L179.00,401.80 L179.50,401.79 L180.00,401.76 L180.50,401.70 L181.00,401.61 L181.50,401.50 L182.00,401.37 L182.50,401.22 L183.00,401.06 L183.50,400.89 L184.00,400.72 L184.50,400.54 L185.00,400.36 L185.50,400.17 L186.00,399.96 L186.50,399.72 L187.00,399.46 L187.50,399.17 L188.00,398.84 L188.50,398.49 L189.00,398.10 L189.50,397.68 L190.00,397.20 L190.50,396.57 L191.00,395.81 L191.50,394.94 L192.00,393.99 L192.50,392.99 L193.00,391.95 L193.50,390.90 L194.00,389.82 L194.50,388.66 L195.00,387.44 L195.50,386.14 L196.00,384.79 L196.50,383.37 L197.00,381.91 L197.50,380.39 L198.00,378.82 L198.50,377.17 L199.00,375.44 L199.50,373.58 L200.00,371.60 L200.50,369.45 L201.00,367.03 L201.50,364.22 L202.00,361.18 L202.50,358.05 L203.00,355.00 L203.50,352.06 L204.00,349.12 L204.50,346.16 L205.00,343.13 L205.50,340.00 L206.00,336.69 L206.50,333.24 L207.00,329.75 L207.50,326.33 L208.00,323.01 L208.50,319.64 L209.00,316.31 L209.50,313.16 L210.00,310.32 L210.50,307.83 L211.00,305.42 L211.50,303.18 L212.00,301.23 L212.50,299.68 L213.00,298.57 L213.50,297.64 L214.00,296.87 L214.50,296.28 L215.00,295.84 L215.50,295.45 L216.00,295.11 L216.50,294.85 L217.00,294.71 L217.50,294.74 L218.00,294.97 L218.50,295.35 L219.00,295.81 L219.50,296.33 L220.00,297.09 L220.50,298.05 L221.00,299.20 L221.50,300.72 L222.00,302.72 L222.50,305.06 L223.00,307.59 L223.50,310.17 L224.00,312.63 L224.50,314.95 L225.00,317.26 L225.50,319.60 L226.00,322.00 L226.50,324.49 L227.00,327.11 L227.50,329.88 L228.00,332.74 L228.50,335.66 L229.00,338.58 L229.50,341.45 L230.00,344.23 L230.50,346.87 L231.00,349.44 L231.50,351.94 L232.00,354.40 L232.50,356.85 L233.00,359.30 L233.50,361.77 L234.00,364.30 L234.50,366.93 L235.00,369.67 L235.50,372.46 L236.00,375.24 L236.50,377.94 L237.00,380.51 L237.50,382.89 L238.00,385.04 L238.50,387.10 L239.00,389.09 L239.50,391.00 L240.00,392.79 L240.50,394.45 L241.00,395.95 L241.50,397.26 L242.00,398.42 L242.50,399.53 L243.00,400.57 L243.50,401.54 L244.00,402.40 L244.50,403.16 L245.00,403.79 L245.50,404.29 L246.00,404.73 L246.50,405.14 L247.00,405.53 L247.50,405.89 L248.00,406.22 L248.50,406.52 L249.00,406.79 L249.50,407.02 L250.00,407.22 L250.50,407.37 L251.00,407.48 L251.50,407.56 L252.00,407.64 L252.50,407.71 L253.00,407.79 L253.50,407.85 L254.00,407.92 L254.50,407.98 L255.00,408.03 L255.50,408.08 L256.00,408.13 L256.50,408.18 L257.00,408.22 L257.50,408.26 L258.00,408.29 L258.50,408.32 L259.00,408.34 L259.50,408.36 L260.00,408.38 L260.50,408.39 L261.00,408.40 L261.50,408.40" fill="none" stroke="#ff3a3a" stroke-width="1.8" stroke-linejoin="round" stroke-linecap="round" />
<path d="M30.00,398.20 L30.50,398.20 L31.00,398.20 L31.50,398.20 L32.00,398.20 L32.50,398.20 L33.00,398.20 L33.50,398.20 L34.00,398.20 L34.50,398.20 L35.00,398.20 L35.50,398.19 L36.00,398.19 L36.50,398.19 L37.00,398.19 L37.50,398.19 L38.00,398.19 L38.50,398.19 L39.00,398.18 L39.50,398.18 L40.00,398.18 L40.50,398.18 L41.00,398.18 L41.50,398.17 L42.00,398.17 L42.50,398.17 L43.00,398.17 L43.50,398.16 L44.00,398.16 L44.50,398.16 L45.00,398.16 L45.50,398.15 L46.00,398.15 L46.50,398.15 L47.00,398.14 L47.50,398.14 L48.00,398.14 L48.50,398.13 L49.00,398.13 L49.50,398.12 L50.00,398.12 L50.50,398.12 L51.00,398.11 L51.50,398.11 L52.00,398.10 L52.50,398.10 L53.00,398.10 L53.50,398.09 L54.00,398.09 L54.50,398.08 L55.00,398.08 L55.50,398.07 L56.00,398.07 L56.50,398.06 L57.00,398.06 L57.50,398.05 L58.00,398.04 L58.50,398.04 L59.00,398.03 L59.50,398.03 L60.00,398.02 L60.50,398.02 L61.00,398.01 L61.50,398.00 L62.00,398.00 L62.50,397.99 L63.00,397.98 L63.50,397.98 L64.00,397.97 L64.50,397.96 L65.00,397.96 L65.50,397.95 L66.00,397.94 L66.50,397.94 L67.00,397.93 L67.50,397.92 L68.00,397.91 L68.50,397.91 L69.00,397.90 L69.50,397.89 L70.00,397.88 L70.50,397.87 L71.00,397.87 L71.50,397.86 L72.00,397.85 L72.50,397.84 L73.00,397.83 L73.50,397.82 L74.00,397.81 L74.50,397.80 L75.00,397.80 L75.50,397.79 L76.00,397.78 L76.50,397.77 L77.00,397.76 L77.50,397.75 L78.00,397.74 L78.50,397.73 L79.00,397.72 L79.50,397.71 L80.00,397.70 L80.50,397.69 L81.00,397.68 L81.50,397.66 L82.00,397.65 L82.50,397.63 L83.00,397.61 L83.50,397.59 L84.00,397.56 L84.50,397.54 L85.00,397.51 L85.50,397.48 L86.00,397.45 L86.50,397.42 L87.00,397.39 L87.50,397.35 L88.00,397.32 L88.50,397.28 L89.00,397.24 L89.50,397.20 L90.00,397.15 L90.50,397.11 L91.00,397.06 L91.50,397.02 L92.00,396.97 L92.50,396.92 L93.00,396.86 L93.50,396.81 L94.00,396.75 L94.50,396.69 L95.00,396.61 L95.50,396.53 L96.00,396.44 L96.50,396.34 L97.00,396.23 L97.50,396.12 L98.00,395.99 L98.50,395.86 L99.00,395.73 L99.50,395.58 L100.00,395.43 L100.50,395.27 L101.00,395.11 L101.50,394.94 L102.00,394.76 L102.50,394.58 L103.00,394.37 L103.50,394.11 L104.00,393.81 L104.50,393.49 L105.00,393.20 L105.50,392.93 L106.00,392.66 L106.50,392.41 L107.00,392.15 L107.50,391.90 L108.00,391.65 L108.50,391.40 L109.00,391.15 L109.50,390.90 L110.00,390.64 L110.50,390.39 L111.00,390.13 L111.50,389.87 L112.00,389.60 L112.50,389.32 L113.00,389.03 L113.50,388.74 L114.00,388.44 L114.50,388.14 L115.00,387.84 L115.50,387.53 L116.00,387.22 L116.50,386.90 L117.00,386.58 L117.50,386.25 L118.00,385.91 L118.50,385.57 L119.00,385.22 L119.50,384.86 L120.00,384.49 L120.50,384.11 L121.00,383.72 L121.50,383.33 L122.00,382.92 L122.50,382.48 L123.00,382.01 L123.50,381.52 L124.00,381.00 L124.50,380.48 L125.00,379.95 L125.50,379.42 L126.00,378.90 L126.50,378.39 L127.00,377.90 L127.50,377.43 L128.00,376.96 L128.50,376.50 L129.00,376.05 L129.50,375.59 L130.00,375.14 L130.50,374.68 L131.00,374.23 L131.50,373.77 L132.00,373.30 L132.50,372.83 L133.00,372.35 L133.50,371.86 L134.00,371.37 L134.50,370.88 L135.00,370.39 L135.50,369.90 L136.00,369.41 L136.50,368.93 L137.00,368.45 L137.50,367.98 L138.00,367.52 L138.50,367.06 L139.00,366.63 L139.50,366.19 L140.00,365.77 L140.50,365.35 L141.00,364.94 L141.50,364.53 L142.00,364.13 L142.50,363.73 L143.00,363.33 L143.50,362.94 L144.00,362.56 L144.50,362.18 L145.00,361.80 L145.50,361.43 L146.00,361.07 L146.50,360.72 L147.00,360.37 L147.50,360.02 L148.00,359.65 L148.50,359.29 L149.00,358.91 L149.50,358.53 L150.00,358.15 L150.50,357.76 L151.00,357.37 L151.50,356.99 L152.00,356.61 L152.50,356.23 L153.00,355.86 L153.50,355.49 L154.00,355.14 L154.50,354.79 L155.00,354.46 L155.50,354.14 L156.00,353.82 L156.50,353.50 L157.00,353.19 L157.50,352.87 L158.00,352.57 L158.50,352.26 L159.00,351.97 L159.50,351.68 L160.00,351.40 L160.50,351.13 L161.00,350.87 L161.50,350.63 L162.00,350.40 L162.50,350.19 L163.00,350.00 L163.50,349.84 L164.00,349.70 L164.50,349.56 L165.00,349.40 L165.50,349.20 L166.00,348.97 L166.50,348.71 L167.00,348.42 L167.50,348.12 L168.00,347.81 L168.50,347.50 L169.00,347.18 L169.50,346.88 L170.00,346.60 L170.50,346.33 L171.00,346.09 L171.50,345.89 L172.00,345.73 L172.50,345.62 L173.00,345.54 L173.50,345.46 L174.00,345.39 L174.50,345.32 L175.00,345.26 L175.50,345.20 L176.00,345.14 L176.50,345.09 L177.00,345.05 L177.50,345.01 L178.00,344.97 L178.50,344.94 L179.00,344.92 L179.50,344.91 L180.00,344.90 L180.50,344.90 L181.00,344.91 L181.50,344.93 L182.00,344.96 L182.50,344.99 L183.00,345.02 L183.50,345.06 L184.00,345.10 L184.50,345.14 L185.00,345.18 L185.50,345.21 L186.00,345.24 L186.50,345.27 L187.00,345.29 L187.50,345.30 L188.00,345.30 L188.50,345.27 L189.00,345.22 L189.50,345.15 L190.00,345.05 L190.50,344.92 L191.00,344.78 L191.50,344.61 L192.00,344.42 L192.50,344.21 L193.00,343.97 L193.50,343.72 L194.00,343.46 L194.50,343.08 L195.00,342.45 L195.50,341.60 L196.00,340.58 L196.50,339.45 L197.00,338.24 L197.50,336.98 L198.00,335.45 L198.50,333.68 L199.00,331.75 L199.50,329.77 L200.00,327.82 L200.50,325.83 L201.00,323.78 L201.50,321.64 L202.00,319.40 L202.50,317.03 L203.00,314.40 L203.50,311.59 L204.00,308.74 L204.50,305.99 L205.00,303.47 L205.50,301.19 L206.00,299.00 L206.50,296.88 L207.00,294.85 L207.50,292.91 L208.00,291.07 L208.50,289.32 L209.00,287.68 L209.50,286.09 L210.00,284.53 L210.50,283.03 L211.00,281.62 L211.50,280.31 L212.00,279.12 L212.50,278.07 L213.00,277.17 L213.50,276.31 L214.00,275.55 L214.50,274.93 L215.00,274.50 L215.50,274.19 L216.00,273.92 L216.50,273.72 L217.00,273.61 L217.50,273.70 L218.00,274.25 L218.50,275.08 L219.00,276.00 L219.50,277.03 L220.00,278.32 L220.50,279.82 L221.00,281.50 L221.50,283.51 L222.00,285.92 L222.50,288.59 L223.00,291.36 L223.50,294.10 L224.00,296.77 L224.50,299.47 L225.00,302.22 L225.50,305.06 L226.00,308.03 L226.50,311.15 L227.00,314.58 L227.50,318.33 L228.00,322.00 L228.50,325.51 L229.00,329.02 L229.50,332.50 L230.00,335.90 L230.50,339.19 L231.00,342.34 L231.50,345.30 L232.00,348.05 L232.50,350.63 L233.00,353.08 L233.50,355.46 L234.00,357.83 L234.50,360.23 L235.00,362.73 L235.50,365.39 L236.00,368.21 L236.50,371.00 L237.00,373.70 L237.50,376.37 L238.00,378.95 L238.50,381.38 L239.00,383.65 L239.50,385.91 L240.00,388.10 L240.50,390.13 L241.00,391.94 L241.50,393.44 L242.00,394.66 L242.50,395.79 L243.00,396.82 L243.50,397.75 L244.00,398.59 L244.50,399.33 L245.00,399.97 L245.50,400.50 L246.00,400.97 L246.50,401.42 L247.00,401.83 L247.50,402.21 L248.00,402.56 L248.50,402.89 L249.00,403.18 L249.50,403.46 L250.00,403.71 L250.50,403.95 L251.00,404.16 L251.50,404.36 L252.00,404.56 L252.50,404.76 L253.00,404.95 L253.50,405.14 L254.00,405.33 L254.50,405.51 L255.00,405.68 L255.50,405.85 L256.00,406.01 L256.50,406.16 L257.00,406.30 L257.50,406.44 L258.00,406.56 L258.50,406.66 L259.00,406.76 L259.50,406.84 L260.00,406.90 L260.50,406.95 L261.00,406.98 L261.50,407.00" fill="none" stroke="#e0a018" stroke-width="1.9" stroke-linejoin="round" stroke-linecap="round" />
<text x="228" y="279.1" font-family="Liberation Serif" font-weight="bold" font-size="9.5" fill="#ff2020" stroke="#ff2020" stroke-width="0.3" text-anchor="start" >Mn-O</text>
<line x1="237.5" y1="280.9" x2="218.5" y2="292.7" stroke="#ff2020" stroke-width="1.0"/>
<path d="M218.50,292.70 L221.27,288.63 L223.38,292.02 Z" fill="#ff2020"/>
<text x="154.2" y="325.7" font-family="Liberation Serif" font-weight="bold" font-size="9.5" fill="#2222ee" stroke="#2222ee" stroke-width="0.3" text-anchor="start" >H-O-H</text>
<line x1="170.9" y1="327.8" x2="182.3" y2="349.4" stroke="#2222ee" stroke-width="1.0"/>
<path d="M182.30,349.40 L178.43,346.35 L181.97,344.49 Z" fill="#2222ee"/>
<text x="115.4" y="345.9" font-family="Liberation Serif" font-weight="bold" font-size="9.5" fill="#0d9a2e" stroke="#0d9a2e" stroke-width="0.3" text-anchor="start" >C-O-H</text>
<line x1="131.6" y1="349.4" x2="145.6" y2="367" stroke="#0d9a2e" stroke-width="1.0"/>
<path d="M145.60,367.00 L141.23,364.72 L144.36,362.23 Z" fill="#0d9a2e"/>
<path d="M304.5,248.9 H535 V435.2 H304.5 Z" fill="none" stroke="#4a4a4a" stroke-width="1.5"/>
<line x1="304.50" y1="435.2" x2="304.50" y2="438.7" stroke="#4a4a4a" stroke-width="1.2"/>
<line x1="320.96" y1="435.2" x2="320.96" y2="437.2" stroke="#4a4a4a" stroke-width="1.1"/>
<text x="304.50" y="450.0" font-family="Liberation Serif" font-weight="bold" font-size="9.7" fill="#111" stroke="#111" stroke-width="0.3" text-anchor="middle" >665</text>
<line x1="337.43" y1="435.2" x2="337.43" y2="438.7" stroke="#4a4a4a" stroke-width="1.2"/>
<line x1="353.89" y1="435.2" x2="353.89" y2="437.2" stroke="#4a4a4a" stroke-width="1.1"/>
<text x="337.43" y="450.0" font-family="Liberation Serif" font-weight="bold" font-size="9.7" fill="#111" stroke="#111" stroke-width="0.3" text-anchor="middle" >660</text>
<line x1="370.36" y1="435.2" x2="370.36" y2="438.7" stroke="#4a4a4a" stroke-width="1.2"/>
<line x1="386.82" y1="435.2" x2="386.82" y2="437.2" stroke="#4a4a4a" stroke-width="1.1"/>
<text x="370.36" y="450.0" font-family="Liberation Serif" font-weight="bold" font-size="9.7" fill="#111" stroke="#111" stroke-width="0.3" text-anchor="middle" >655</text>
<line x1="403.29" y1="435.2" x2="403.29" y2="438.7" stroke="#4a4a4a" stroke-width="1.2"/>
<line x1="419.75" y1="435.2" x2="419.75" y2="437.2" stroke="#4a4a4a" stroke-width="1.1"/>
<text x="403.29" y="450.0" font-family="Liberation Serif" font-weight="bold" font-size="9.7" fill="#111" stroke="#111" stroke-width="0.3" text-anchor="middle" >650</text>
<line x1="436.21" y1="435.2" x2="436.21" y2="438.7" stroke="#4a4a4a" stroke-width="1.2"/>
<line x1="452.68" y1="435.2" x2="452.68" y2="437.2" stroke="#4a4a4a" stroke-width="1.1"/>
<text x="436.21" y="450.0" font-family="Liberation Serif" font-weight="bold" font-size="9.7" fill="#111" stroke="#111" stroke-width="0.3" text-anchor="middle" >645</text>
<line x1="469.14" y1="435.2" x2="469.14" y2="438.7" stroke="#4a4a4a" stroke-width="1.2"/>
<line x1="485.61" y1="435.2" x2="485.61" y2="437.2" stroke="#4a4a4a" stroke-width="1.1"/>
<text x="469.14" y="450.0" font-family="Liberation Serif" font-weight="bold" font-size="9.7" fill="#111" stroke="#111" stroke-width="0.3" text-anchor="middle" >640</text>
<line x1="502.07" y1="435.2" x2="502.07" y2="438.7" stroke="#4a4a4a" stroke-width="1.2"/>
<line x1="518.54" y1="435.2" x2="518.54" y2="437.2" stroke="#4a4a4a" stroke-width="1.1"/>
<text x="502.07" y="450.0" font-family="Liberation Serif" font-weight="bold" font-size="9.7" fill="#111" stroke="#111" stroke-width="0.3" text-anchor="middle" >635</text>
<line x1="535.00" y1="435.2" x2="535.00" y2="438.7" stroke="#4a4a4a" stroke-width="1.2"/>
<text x="535.00" y="450.0" font-family="Liberation Serif" font-weight="bold" font-size="9.7" fill="#111" stroke="#111" stroke-width="0.3" text-anchor="middle" >630</text>
<text x="284.6" y="260.2" font-family="Liberation Serif" font-weight="bold" font-size="9.5" fill="#000" stroke="#000" stroke-width="0.3" text-anchor="start" >(d)</text>
<text x="0" y="0" font-family="Liberation Serif" font-weight="bold" font-size="11.4" fill="#000" stroke="#000" stroke-width="0.3" text-anchor="middle" transform="translate(290.8,339.7) rotate(-90)">Intensity (Arb. unit)</text>
<text x="419.7" y="466.6" font-family="Liberation Serif" font-weight="bold" font-size="11.4" fill="#000" stroke="#000" stroke-width="0.3" text-anchor="middle" >Binding Energy (eV)</text>
<text x="311.9" y="264" font-family="Liberation Serif" font-weight="bold" font-size="9.5" fill="#000" stroke="#000" stroke-width="0.3" text-anchor="start" >Mn 2p</text>
<path d="M328.20,358.50 L329.20,358.81 L330.20,358.82 L331.20,358.65 L332.20,359.63 L333.20,359.69 L334.20,358.52 L335.20,358.27 L336.20,358.48 L337.20,358.81 L338.20,359.57 L339.20,358.57 L340.20,357.12 L341.20,356.96 L342.20,358.07 L343.20,359.02 L344.20,357.82 L345.20,356.99 L346.20,356.71 L347.20,356.73 L348.20,357.06 L349.20,355.89 L350.20,355.53 L351.20,355.31 L352.20,354.75 L353.20,354.27 L354.20,355.02 L355.20,354.35 L356.20,353.31 L357.20,352.30 L358.20,352.03 L359.20,352.44 L360.20,352.21 L361.20,351.14 L362.20,349.41 L363.20,346.68 L364.20,343.65 L365.20,341.01 L366.20,338.33 L367.20,336.11 L368.20,334.98 L369.20,333.61 L370.20,331.10 L371.20,328.90 L372.20,327.88 L373.20,326.19 L374.20,322.33 L375.20,318.23 L376.20,315.11 L377.20,312.76 L378.20,310.39 L379.20,311.26 L380.20,312.72 L381.20,313.29 L382.20,314.92 L383.20,316.07 L384.20,318.40 L385.20,322.47 L386.20,326.45 L387.20,332.06 L388.20,337.82 L389.20,341.80 L390.20,346.03 L391.20,348.38 L392.20,350.25 L393.20,351.45 L394.20,352.92 L395.20,356.62 L396.20,359.93 L397.20,361.17 L398.20,362.37 L399.20,364.12 L400.20,364.42 L401.20,364.42 L402.20,365.84 L403.20,367.35 L404.20,367.81 L405.20,368.97 L406.20,369.64 L407.20,368.67 L408.20,367.54 L409.20,367.61 L410.20,368.87 L411.20,369.76 L412.20,369.49 L413.20,368.78 L414.20,367.82 L415.20,367.26 L416.20,366.48 L417.20,365.68 L418.20,364.66 L419.20,364.21 L420.20,364.37 L421.20,364.01 L422.20,364.07 L423.20,364.70 L424.20,365.15 L425.20,365.91 L426.20,364.31 L427.20,362.26 L428.20,361.60 L429.20,360.32 L430.20,358.79 L431.20,357.79 L432.20,355.04 L433.20,352.73 L434.20,352.99 L435.20,352.36 L436.20,351.22 L437.20,348.40 L438.20,346.15 L439.20,344.78 L440.20,341.65 L441.20,339.40 L442.20,337.25 L443.20,333.50 L444.20,329.59 L445.20,325.97 L446.20,321.65 L447.20,315.85 L448.20,310.30 L449.20,305.38 L450.20,300.54 L451.20,294.03 L452.20,288.34 L453.20,284.29 L454.20,280.55 L455.20,277.83 L456.20,276.39 L457.20,277.30 L458.20,281.22 L459.20,286.26 L460.20,290.71 L461.20,297.40 L462.20,304.72 L463.20,309.86 L464.20,315.51 L465.20,323.98 L466.20,336.78 L467.20,348.50 L468.20,356.50 L469.20,363.89 L470.20,370.03 L471.20,375.28 L472.20,380.29 L473.20,385.82 L474.20,389.36 L475.20,391.62 L476.20,393.95 L477.20,396.57 L478.20,398.60 L479.20,399.36 L480.20,400.41 L481.20,401.17 L482.20,401.80 L483.20,401.62 L484.20,400.52 L485.20,399.82 L486.20,401.13 L487.20,402.12 L488.20,402.09 L489.20,401.92 L490.20,401.35 L491.20,401.04 L492.20,401.43 L493.20,402.60 L494.20,402.28 L495.20,401.27 L496.20,400.89 L497.20,402.03 L498.20,403.27 L499.20,402.83 L500.20,402.44 L501.20,403.64 L502.20,404.22 L503.20,403.93 L504.20,403.77 L505.20,403.79 L506.20,403.50 L507.20,403.04 L508.20,402.69 L509.20,403.50 L510.20,403.78 L511.20,403.37 L512.20,401.04" fill="none" stroke="#ff3030" stroke-width="1.3"/>
<path d="M328.00,360.30 L328.50,360.31 L329.00,360.32 L329.50,360.33 L330.00,360.34 L330.50,360.35 L331.00,360.36 L331.50,360.37 L332.00,360.39 L332.50,360.40 L333.00,360.42 L333.50,360.43 L334.00,360.45 L334.50,360.47 L335.00,360.49 L335.50,360.51 L336.00,360.53 L336.50,360.55 L337.00,360.57 L337.50,360.59 L338.00,360.61 L338.50,360.64 L339.00,360.66 L339.50,360.69 L340.00,360.71 L340.50,360.74 L341.00,360.77 L341.50,360.79 L342.00,360.82 L342.50,360.85 L343.00,360.88 L343.50,360.90 L344.00,360.93 L344.50,360.96 L345.00,360.99 L345.50,361.02 L346.00,361.05 L346.50,361.09 L347.00,361.12 L347.50,361.15 L348.00,361.18 L348.50,361.21 L349.00,361.24 L349.50,361.28 L350.00,361.31 L350.50,361.34 L351.00,361.37 L351.50,361.41 L352.00,361.44 L352.50,361.47 L353.00,361.51 L353.50,361.55 L354.00,361.58 L354.50,361.62 L355.00,361.66 L355.50,361.70 L356.00,361.74 L356.50,361.79 L357.00,361.83 L357.50,361.88 L358.00,361.93 L358.50,361.98 L359.00,362.04 L359.50,362.09 L360.00,362.15 L360.50,362.21 L361.00,362.28 L361.50,362.34 L362.00,362.41 L362.50,362.49 L363.00,362.57 L363.50,362.67 L364.00,362.77 L364.50,362.87 L365.00,362.99 L365.50,363.11 L366.00,363.24 L366.50,363.37 L367.00,363.50 L367.50,363.64 L368.00,363.79 L368.50,363.94 L369.00,364.09 L369.50,364.24 L370.00,364.40 L370.50,364.57 L371.00,364.74 L371.50,364.94 L372.00,365.14 L372.50,365.35 L373.00,365.57 L373.50,365.79 L374.00,366.02 L374.50,366.26 L375.00,366.49 L375.50,366.73 L376.00,366.97 L376.50,367.20 L377.00,367.43 L377.50,367.66 L378.00,367.88 L378.50,368.11 L379.00,368.34 L379.50,368.58 L380.00,368.81 L380.50,369.06 L381.00,369.30 L381.50,369.54 L382.00,369.77 L382.50,370.01 L383.00,370.24 L383.50,370.46 L384.00,370.68 L384.50,370.89 L385.00,371.09 L385.50,371.28 L386.00,371.47 L386.50,371.64 L387.00,371.81 L387.50,371.98 L388.00,372.15 L388.50,372.32 L389.00,372.49 L389.50,372.66 L390.00,372.82 L390.50,372.98 L391.00,373.13 L391.50,373.28 L392.00,373.43 L392.50,373.57 L393.00,373.70 L393.50,373.82 L394.00,373.94 L394.50,374.05 L395.00,374.15 L395.50,374.24 L396.00,374.32 L396.50,374.39 L397.00,374.45 L397.50,374.51 L398.00,374.56 L398.50,374.62 L399.00,374.67 L399.50,374.71 L400.00,374.76 L400.50,374.80 L401.00,374.85 L401.50,374.89 L402.00,374.93 L402.50,374.96 L403.00,375.00 L403.50,375.03 L404.00,375.07 L404.50,375.10 L405.00,375.13 L405.50,375.16 L406.00,375.19 L406.50,375.22 L407.00,375.24 L407.50,375.27 L408.00,375.30 L408.50,375.33 L409.00,375.35 L409.50,375.37 L410.00,375.39 L410.50,375.41 L411.00,375.43 L411.50,375.45 L412.00,375.46 L412.50,375.48 L413.00,375.49 L413.50,375.51 L414.00,375.52 L414.50,375.54 L415.00,375.55 L415.50,375.57 L416.00,375.59 L416.50,375.61 L417.00,375.63 L417.50,375.65 L418.00,375.68 L418.50,375.70 L419.00,375.73 L419.50,375.76 L420.00,375.80 L420.50,375.85 L421.00,375.91 L421.50,375.99 L422.00,376.09 L422.50,376.20 L423.00,376.32 L423.50,376.45 L424.00,376.59 L424.50,376.73 L425.00,376.89 L425.50,377.04 L426.00,377.20 L426.50,377.36 L427.00,377.51 L427.50,377.67 L428.00,377.82 L428.50,377.96 L429.00,378.10 L429.50,378.23 L430.00,378.35 L430.50,378.46 L431.00,378.57 L431.50,378.67 L432.00,378.77 L432.50,378.87 L433.00,378.97 L433.50,379.06 L434.00,379.15 L434.50,379.25 L435.00,379.34 L435.50,379.43 L436.00,379.53 L436.50,379.62 L437.00,379.72 L437.50,379.82 L438.00,379.92 L438.50,380.03 L439.00,380.14 L439.50,380.26 L440.00,380.38 L440.50,380.50 L441.00,380.63 L441.50,380.77 L442.00,380.92 L442.50,381.08 L443.00,381.25 L443.50,381.44 L444.00,381.63 L444.50,381.84 L445.00,382.05 L445.50,382.27 L446.00,382.50 L446.50,382.74 L447.00,382.99 L447.50,383.25 L448.00,383.53 L448.50,383.82 L449.00,384.13 L449.50,384.46 L450.00,384.80 L450.50,385.17 L451.00,385.58 L451.50,386.01 L452.00,386.47 L452.50,386.95 L453.00,387.45 L453.50,387.95 L454.00,388.47 L454.50,388.98 L455.00,389.50 L455.50,390.03 L456.00,390.58 L456.50,391.15 L457.00,391.73 L457.50,392.31 L458.00,392.89 L458.50,393.45 L459.00,394.00 L459.50,394.55 L460.00,395.14 L460.50,395.73 L461.00,396.31 L461.50,396.87 L462.00,397.38 L462.50,397.84 L463.00,398.22 L463.50,398.51 L464.00,398.78 L464.50,399.04 L465.00,399.28 L465.50,399.52 L466.00,399.75 L466.50,399.97 L467.00,400.17 L467.50,400.37 L468.00,400.55 L468.50,400.72 L469.00,400.88 L469.50,401.03 L470.00,401.17 L470.50,401.29 L471.00,401.40 L471.50,401.50 L472.00,401.59 L472.50,401.66 L473.00,401.72 L473.50,401.78 L474.00,401.83 L474.50,401.89 L475.00,401.94 L475.50,401.99 L476.00,402.03 L476.50,402.08 L477.00,402.12 L477.50,402.16 L478.00,402.20 L478.50,402.24 L479.00,402.28 L479.50,402.31 L480.00,402.34 L480.50,402.38 L481.00,402.41 L481.50,402.44 L482.00,402.46 L482.50,402.49 L483.00,402.51 L483.50,402.54 L484.00,402.56 L484.50,402.58 L485.00,402.60 L485.50,402.62 L486.00,402.64 L486.50,402.66 L487.00,402.67 L487.50,402.69 L488.00,402.70 L488.50,402.71 L489.00,402.73 L489.50,402.74 L490.00,402.75 L490.50,402.77 L491.00,402.78 L491.50,402.79 L492.00,402.80 L492.50,402.82 L493.00,402.83 L493.50,402.84 L494.00,402.85 L494.50,402.86 L495.00,402.88 L495.50,402.89 L496.00,402.90 L496.50,402.91 L497.00,402.92 L497.50,402.93 L498.00,402.94 L498.50,402.95 L499.00,402.96 L499.50,402.97 L500.00,402.98 L500.50,402.99 L501.00,403.00 L501.50,403.00 L502.00,403.01 L502.50,403.02 L503.00,403.03 L503.50,403.03 L504.00,403.04 L504.50,403.05 L505.00,403.05 L505.50,403.06 L506.00,403.06 L506.50,403.07 L507.00,403.07 L507.50,403.08 L508.00,403.08 L508.50,403.09 L509.00,403.09 L509.50,403.09 L510.00,403.09 L510.50,403.10 L511.00,403.10 L511.50,403.10 L512.00,403.10 L512.50,403.10" fill="none" stroke="#904a4a" stroke-width="1.8" stroke-linejoin="round" stroke-linecap="round" />
<path d="M328.00,360.30 L328.50,360.34 L329.00,360.38 L329.50,360.42 L330.00,360.46 L330.50,360.50 L331.00,360.54 L331.50,360.58 L332.00,360.62 L332.50,360.66 L333.00,360.69 L333.50,360.73 L334.00,360.76 L334.50,360.80 L335.00,360.83 L335.50,360.86 L336.00,360.89 L336.50,360.92 L337.00,360.95 L337.50,360.98 L338.00,361.01 L338.50,361.04 L339.00,361.06 L339.50,361.09 L340.00,361.11 L340.50,361.14 L341.00,361.16 L341.50,361.18 L342.00,361.20 L342.50,361.22 L343.00,361.24 L343.50,361.26 L344.00,361.28 L344.50,361.29 L345.00,361.31 L345.50,361.32 L346.00,361.33 L346.50,361.34 L347.00,361.36 L347.50,361.36 L348.00,361.37 L348.50,361.38 L349.00,361.39 L349.50,361.39 L350.00,361.40 L350.50,361.40 L351.00,361.40 L351.50,361.40 L352.00,361.40 L352.50,361.40 L353.00,361.40 L353.50,361.40 L354.00,361.40 L354.50,361.40 L355.00,361.40 L355.50,361.40 L356.00,361.40 L356.50,361.40 L357.00,361.40 L357.50,361.31 L358.00,361.06 L358.50,360.66 L359.00,360.16 L359.50,359.56 L360.00,358.90 L360.50,358.21 L361.00,357.50 L361.50,356.67 L362.00,355.63 L362.50,354.40 L363.00,353.03 L363.50,351.56 L364.00,350.02 L364.50,348.45 L365.00,346.88 L365.50,345.37 L366.00,343.91 L366.50,342.26 L367.00,340.52 L367.50,338.87 L368.00,337.47 L368.50,336.50 L369.00,335.81 L369.50,335.19 L370.00,334.67 L370.50,334.33 L371.00,334.20 L371.50,334.29 L372.00,334.54 L372.50,334.90 L373.00,335.30 L373.50,335.86 L374.00,336.66 L374.50,337.60 L375.00,338.60 L375.50,339.70 L376.00,340.96 L376.50,342.32 L377.00,343.73 L377.50,345.13 L378.00,346.51 L378.50,347.94 L379.00,349.42 L379.50,350.92 L380.00,352.42 L380.50,353.90 L381.00,355.33 L381.50,356.70 L382.00,357.98 L382.50,359.17 L383.00,360.33 L383.50,361.49 L384.00,362.62 L384.50,363.71 L385.00,364.75 L385.50,365.72 L386.00,366.60 L386.50,367.40 L387.00,368.08 L387.50,368.67 L388.00,369.23 L388.50,369.77 L389.00,370.28 L389.50,370.75 L390.00,371.19 L390.50,371.60 L391.00,371.98 L391.50,372.31 L392.00,372.61 L392.50,372.87 L393.00,373.08 L393.50,373.29 L394.00,373.50 L394.50,373.69 L395.00,373.88 L395.50,374.05 L396.00,374.21 L396.50,374.34 L397.00,374.45 L397.50,374.53 L398.00,374.58 L398.50,374.60" fill="none" stroke="#18cfd0" stroke-width="1.8" stroke-linejoin="round" stroke-linecap="round" />
<path d="M351.40,361.40 L351.90,361.46 L352.40,361.52 L352.90,361.57 L353.40,361.62 L353.90,361.66 L354.40,361.70 L354.90,361.73 L355.40,361.76 L355.90,361.79 L356.40,361.81 L356.90,361.83 L357.40,361.84 L357.90,361.86 L358.40,361.87 L358.90,361.88 L359.40,361.89 L359.90,361.89 L360.40,361.89 L360.90,361.90 L361.40,361.90 L361.90,361.90 L362.40,361.90 L362.90,361.90 L363.40,361.87 L363.90,361.77 L364.40,361.59 L364.90,361.35 L365.40,361.05 L365.90,360.71 L366.40,360.33 L366.90,359.93 L367.40,359.50 L367.90,359.06 L368.40,358.61 L368.90,358.06 L369.40,357.39 L369.90,356.63 L370.40,355.80 L370.90,354.92 L371.40,354.01 L371.90,353.09 L372.40,352.18 L372.90,351.28 L373.40,350.36 L373.90,349.41 L374.40,348.41 L374.90,347.35 L375.40,346.23 L375.90,345.02 L376.40,343.68 L376.90,342.26 L377.40,340.80 L377.90,339.26 L378.40,337.57 L378.90,335.82 L379.40,334.09 L379.90,332.45 L380.40,331.01 L380.90,329.75 L381.40,328.44 L381.90,327.16 L382.40,326.01 L382.90,325.12 L383.40,324.59 L383.90,324.55 L384.40,325.05 L384.90,325.97 L385.40,327.17 L385.90,328.50 L386.40,329.80 L386.90,331.16 L387.40,332.74 L387.90,334.49 L388.40,336.40 L388.90,338.66 L389.40,341.17 L389.90,343.65 L390.40,345.85 L390.90,347.95 L391.40,350.00 L391.90,351.98 L392.40,353.89 L392.90,355.68 L393.40,357.36 L393.90,358.90 L394.40,360.36 L394.90,361.76 L395.40,363.10 L395.90,364.36 L396.40,365.52 L396.90,366.58 L397.40,367.53 L397.90,368.37 L398.40,369.16 L398.90,369.90 L399.40,370.58 L399.90,371.19 L400.40,371.74 L400.90,372.21 L401.40,372.63 L401.90,373.02 L402.40,373.39 L402.90,373.74 L403.40,374.05 L403.90,374.34 L404.40,374.59 L404.90,374.80 L405.40,374.97 L405.90,375.11 L406.40,375.25 L406.90,375.38 L407.40,375.51 L407.90,375.62 L408.40,375.73 L408.90,375.81 L409.40,375.89 L409.90,375.95 L410.40,375.98 L410.90,376.00" fill="none" stroke="#c060f0" stroke-width="1.8" stroke-linejoin="round" stroke-linecap="round" />
<path d="M418.00,376.20 L418.50,376.19 L419.00,376.18 L419.50,376.15 L420.00,376.11 L420.50,376.07 L421.00,376.02 L421.50,375.96 L422.00,375.90 L422.50,375.82 L423.00,375.72 L423.50,375.59 L424.00,375.43 L424.50,375.24 L425.00,375.03 L425.50,374.80 L426.00,374.54 L426.50,374.26 L427.00,373.92 L427.50,373.44 L428.00,372.85 L428.50,372.16 L429.00,371.39 L429.50,370.56 L430.00,369.69 L430.50,368.80 L431.00,367.90 L431.50,366.97 L432.00,365.95 L432.50,364.87 L433.00,363.72 L433.50,362.51 L434.00,361.26 L434.50,359.96 L435.00,358.63 L435.50,357.27 L436.00,355.82 L436.50,354.16 L437.00,352.41 L437.50,350.69 L438.00,349.12 L438.50,347.80 L439.00,346.59 L439.50,345.38 L440.00,344.35 L440.50,343.72 L441.00,343.61 L441.50,343.77 L442.00,344.07 L442.50,344.51 L443.00,345.07 L443.50,345.73 L444.00,346.48 L444.50,347.30 L445.00,348.63 L445.50,350.70 L446.00,353.13 L446.50,355.58 L447.00,357.73 L447.50,359.84 L448.00,361.97 L448.50,364.09 L449.00,366.16 L449.50,368.13 L450.00,369.97 L450.50,371.65 L451.00,373.22 L451.50,374.72 L452.00,376.13 L452.50,377.49 L453.00,378.80 L453.50,380.06 L454.00,381.28 L454.50,382.39 L455.00,383.50 L455.50,384.71 L456.00,386.02 L456.50,387.39 L457.00,388.76 L457.50,390.10 L458.00,391.34 L458.50,392.46 L459.00,393.39 L459.50,394.10 L460.00,394.67 L460.50,395.21 L461.00,395.74 L461.50,396.24 L462.00,396.71 L462.50,397.16 L463.00,397.59 L463.50,397.99 L464.00,398.37 L464.50,398.73 L465.00,399.06 L465.50,399.37 L466.00,399.65 L466.50,399.90 L467.00,400.13 L467.50,400.34 L468.00,400.52 L468.50,400.67 L469.00,400.80 L469.50,400.91 L470.00,401.02 L470.50,401.12 L471.00,401.22 L471.50,401.31 L472.00,401.40 L472.50,401.48 L473.00,401.55 L473.50,401.63 L474.00,401.69 L474.50,401.76 L475.00,401.82 L475.50,401.87 L476.00,401.92 L476.50,401.96 L477.00,402.00 L477.50,402.04 L478.00,402.07 L478.50,402.10 L479.00,402.13 L479.50,402.15 L480.00,402.18 L480.50,402.20 L481.00,402.22 L481.50,402.25 L482.00,402.27 L482.50,402.29 L483.00,402.32 L483.50,402.34 L484.00,402.36 L484.50,402.38 L485.00,402.41 L485.50,402.43 L486.00,402.45 L486.50,402.47 L487.00,402.49 L487.50,402.51 L488.00,402.53 L488.50,402.55 L489.00,402.56 L489.50,402.58 L490.00,402.60 L490.50,402.62 L491.00,402.63 L491.50,402.65 L492.00,402.67 L492.50,402.68 L493.00,402.70 L493.50,402.71 L494.00,402.73 L494.50,402.74 L495.00,402.76 L495.50,402.77 L496.00,402.79 L496.50,402.80 L497.00,402.81 L497.50,402.82 L498.00,402.83 L498.50,402.85 L499.00,402.86 L499.50,402.87 L500.00,402.88 L500.50,402.89 L501.00,402.90 L501.50,402.91 L502.00,402.91 L502.50,402.92 L503.00,402.93 L503.50,402.94 L504.00,402.95 L504.50,402.95 L505.00,402.96 L505.50,402.96 L506.00,402.97 L506.50,402.97 L507.00,402.98 L507.50,402.98 L508.00,402.99 L508.50,402.99 L509.00,402.99 L509.50,402.99 L510.00,403.00 L510.50,403.00 L511.00,403.00 L511.50,403.00 L512.00,403.00" fill="none" stroke="#e8a820" stroke-width="1.8" stroke-linejoin="round" stroke-linecap="round" />
<path d="M420.00,376.00 L420.50,376.20 L421.00,376.40 L421.50,376.59 L422.00,376.78 L422.50,376.95 L423.00,377.12 L423.50,377.27 L424.00,377.42 L424.50,377.56 L425.00,377.68 L425.50,377.80 L426.00,377.91 L426.50,378.00 L427.00,378.08 L427.50,378.15 L428.00,378.21 L428.50,378.25 L429.00,378.28 L429.50,378.30 L430.00,378.30 L430.50,378.30 L431.00,378.30 L431.50,378.30 L432.00,378.30 L432.50,378.30 L433.00,378.28 L433.50,378.18 L434.00,378.01 L434.50,377.79 L435.00,377.54 L435.50,377.27 L436.00,377.00 L436.50,376.74 L437.00,376.47 L437.50,376.18 L438.00,375.87 L438.50,375.52 L439.00,375.12 L439.50,374.68 L440.00,374.17 L440.50,373.59 L441.00,372.89 L441.50,371.82 L442.00,370.36 L442.50,368.60 L443.00,366.59 L443.50,364.43 L444.00,362.17 L444.50,359.90 L445.00,357.46 L445.50,354.70 L446.00,351.71 L446.50,348.57 L447.00,345.37 L447.50,342.20 L448.00,339.14 L448.50,336.05 L449.00,332.75 L449.50,329.00 L450.00,324.35 L450.50,318.76 L451.00,312.68 L451.50,306.52 L452.00,300.74 L452.50,295.77 L453.00,291.79 L453.50,288.16 L454.00,284.93 L454.50,282.26 L455.00,280.24 L455.50,278.40 L456.00,276.97 L456.50,276.40 L457.00,276.79 L457.50,277.79 L458.00,279.14 L458.50,280.64 L459.00,282.78 L459.50,285.47 L460.00,288.46 L460.50,291.56 L461.00,295.03 L461.50,298.83 L462.00,302.84 L462.50,306.90 L463.00,310.90 L463.50,314.96 L464.00,319.11 L464.50,323.31 L465.00,327.56 L465.50,331.91 L466.00,336.30 L466.50,340.69 L467.00,345.00 L467.50,349.33 L468.00,353.73 L468.50,358.11 L469.00,362.34 L469.50,366.34 L470.00,370.00 L470.50,373.48 L471.00,376.82 L471.50,379.75 L472.00,382.00 L472.50,383.77 L473.00,385.44 L473.50,387.01 L474.00,388.48 L474.50,389.86 L475.00,391.13 L475.50,392.31 L476.00,393.38 L476.50,394.35 L477.00,395.22 L477.50,395.99 L478.00,396.65 L478.50,397.20 L479.00,397.68 L479.50,398.13 L480.00,398.57 L480.50,398.97 L481.00,399.36 L481.50,399.71 L482.00,400.03 L482.50,400.32 L483.00,400.58 L483.50,400.79 L484.00,400.97 L484.50,401.11 L485.00,401.20 L485.50,401.27 L486.00,401.34 L486.50,401.40 L487.00,401.47 L487.50,401.53 L488.00,401.60 L488.50,401.66 L489.00,401.72 L489.50,401.77 L490.00,401.83 L490.50,401.88 L491.00,401.94 L491.50,401.99 L492.00,402.04 L492.50,402.09 L493.00,402.13 L493.50,402.18 L494.00,402.23 L494.50,402.27 L495.00,402.31 L495.50,402.35 L496.00,402.39 L496.50,402.43 L497.00,402.46 L497.50,402.50 L498.00,402.53 L498.50,402.57 L499.00,402.60 L499.50,402.63 L500.00,402.66 L500.50,402.68 L501.00,402.71 L501.50,402.74 L502.00,402.76 L502.50,402.78 L503.00,402.80 L503.50,402.82 L504.00,402.84 L504.50,402.86 L505.00,402.88 L505.50,402.89 L506.00,402.91 L506.50,402.92 L507.00,402.93 L507.50,402.95 L508.00,402.96 L508.50,402.96 L509.00,402.97 L509.50,402.98 L510.00,402.99 L510.50,402.99 L511.00,402.99 L511.50,403.00 L512.00,403.00 L512.50,403.00" fill="none" stroke="#18b080" stroke-width="1.8" stroke-linejoin="round" stroke-linecap="round" />
<path d="M328.00,360.30 L328.50,360.36 L329.00,360.41 L329.50,360.46 L330.00,360.51 L330.50,360.56 L331.00,360.60 L331.50,360.65 L332.00,360.69 L332.50,360.73 L333.00,360.76 L333.50,360.80 L334.00,360.83 L334.50,360.86 L335.00,360.89 L335.50,360.92 L336.00,360.94 L336.50,360.97 L337.00,360.99 L337.50,361.01 L338.00,361.03 L338.50,361.05 L339.00,361.07 L339.50,361.08 L340.00,361.10 L340.50,361.11 L341.00,361.12 L341.50,361.13 L342.00,361.14 L342.50,361.15 L343.00,361.16 L343.50,361.17 L344.00,361.17 L344.50,361.18 L345.00,361.18 L345.50,361.19 L346.00,361.19 L346.50,361.19 L347.00,361.19 L347.50,361.20 L348.00,361.20 L348.50,361.20 L349.00,361.20 L349.50,361.20 L350.00,361.20 L350.50,361.20 L351.00,361.20 L351.50,361.20 L352.00,361.17 L352.50,361.12 L353.00,361.03 L353.50,360.91 L354.00,360.78 L354.50,360.61 L355.00,360.43 L355.50,360.23 L356.00,360.02 L356.50,359.80 L357.00,359.51 L357.50,359.11 L358.00,358.60 L358.50,358.00 L359.00,357.33 L359.50,356.58 L360.00,355.79 L360.50,354.94 L361.00,354.07 L361.50,353.18 L362.00,352.22 L362.50,351.10 L363.00,349.83 L363.50,348.47 L364.00,347.03 L364.50,345.56 L365.00,344.09 L365.50,342.64 L366.00,341.24 L366.50,339.77 L367.00,338.25 L367.50,336.74 L368.00,335.30 L368.50,334.00 L369.00,332.88 L369.50,331.91 L370.00,331.03 L370.50,330.18 L371.00,329.30 L371.50,328.34 L372.00,327.34 L372.50,326.30 L373.00,325.25 L373.50,324.22 L374.00,323.22 L374.50,322.29 L375.00,321.43 L375.50,320.69 L376.00,320.06 L376.50,319.44 L377.00,318.82 L377.50,318.21 L378.00,317.63 L378.50,317.10 L379.00,316.62 L379.50,316.22 L380.00,315.90 L380.50,315.69 L381.00,315.60 L381.50,315.66 L382.00,315.89 L382.50,316.26 L383.00,316.77 L383.50,317.38 L384.00,318.07 L384.50,318.83 L385.00,319.65 L385.50,320.83 L386.00,322.36 L386.50,324.21 L387.00,326.30 L387.50,328.59 L388.00,331.00 L388.50,334.10 L389.00,337.97 L389.50,341.85 L390.00,345.00 L390.50,347.41 L391.00,349.60 L391.50,351.61 L392.00,353.45 L392.50,355.16 L393.00,356.77 L393.50,358.30 L394.00,359.78 L394.50,361.21 L395.00,362.58 L395.50,363.88 L396.00,365.08 L396.50,366.19 L397.00,367.17 L397.50,368.03 L398.00,368.83 L398.50,369.57 L399.00,370.26 L399.50,370.89 L400.00,371.45 L400.50,371.95 L401.00,372.38 L401.50,372.77 L402.00,373.14 L402.50,373.49 L403.00,373.81 L403.50,374.11 L404.00,374.38 L404.50,374.61 L405.00,374.82 L405.50,375.00 L406.00,375.16 L406.50,375.31 L407.00,375.46 L407.50,375.60 L408.00,375.72 L408.50,375.84 L409.00,375.94 L409.50,376.03 L410.00,376.11 L410.50,376.16 L411.00,376.20 L411.50,376.23 L412.00,376.25 L412.50,376.28 L413.00,376.30 L413.50,376.32 L414.00,376.34 L414.50,376.36 L415.00,376.37 L415.50,376.38 L416.00,376.39 L416.50,376.40 L417.00,376.40 L417.50,376.40 L418.00,376.38 L418.50,376.35 L419.00,376.31 L419.50,376.25 L420.00,376.19 L420.50,376.11 L421.00,376.04 L421.50,375.95 L422.00,375.86 L422.50,375.76 L423.00,375.63 L423.50,375.47 L424.00,375.29 L424.50,375.09 L425.00,374.86 L425.50,374.61 L426.00,374.34 L426.50,374.04 L427.00,373.63 L427.50,373.11 L428.00,372.49 L428.50,371.78 L429.00,371.00 L429.50,370.17 L430.00,369.30 L430.50,368.41 L431.00,367.52 L431.50,366.58 L432.00,365.56 L432.50,364.48 L433.00,363.33 L433.50,362.12 L434.00,360.86 L434.50,359.55 L435.00,358.19 L435.50,356.80 L436.00,355.30 L436.50,353.65 L437.00,351.91 L437.50,350.13 L438.00,348.38 L438.50,346.65 L439.00,344.79 L439.50,342.87 L440.00,340.98 L440.50,339.21 L441.00,337.65 L441.50,336.40 L442.00,335.50 L442.50,334.80 L443.00,334.22 L443.50,333.68 L444.00,333.11 L444.50,332.41 L445.00,331.50 L445.50,330.19 L446.00,328.45 L446.50,326.40 L447.00,324.21 L447.50,322.00 L448.00,319.77 L448.50,317.39 L449.00,314.85 L449.50,312.14 L450.00,309.18 L450.50,305.83 L451.00,302.22 L451.50,298.52 L452.00,294.90 L452.50,291.54 L453.00,288.47 L453.50,285.39 L454.00,282.51 L454.50,280.10 L455.00,278.36 L455.50,276.80 L456.00,275.48 L456.50,274.65 L457.00,274.55 L457.50,275.09 L458.00,276.05 L458.50,277.25 L459.00,278.55 L459.50,280.30 L460.00,282.51 L460.50,285.09 L461.00,288.34 L461.50,292.15 L462.00,296.28 L462.50,300.51 L463.00,304.62 L463.50,308.67 L464.00,312.80 L464.50,317.17 L465.00,321.92 L465.50,327.31 L466.00,334.17 L466.50,341.41 L467.00,347.54 L467.50,351.96 L468.00,355.87 L468.50,359.40 L469.00,362.62 L469.50,365.59 L470.00,368.38 L470.50,371.07 L471.00,373.73 L471.50,376.38 L472.00,378.99 L472.50,381.50 L473.00,383.88 L473.50,386.07 L474.00,388.03 L474.50,389.71 L475.00,391.13 L475.50,392.48 L476.00,393.75 L476.50,394.92 L477.00,395.95 L477.50,396.83 L478.00,397.52 L478.50,398.00 L479.00,398.35 L479.50,398.69 L480.00,399.00 L480.50,399.30 L481.00,399.58 L481.50,399.84 L482.00,400.08 L482.50,400.30 L483.00,400.51 L483.50,400.70 L484.00,400.88 L484.50,401.04 L485.00,401.18 L485.50,401.30 L486.00,401.41 L486.50,401.51 L487.00,401.59 L487.50,401.65 L488.00,401.70 L488.50,401.74 L489.00,401.78 L489.50,401.82 L490.00,401.86 L490.50,401.90 L491.00,401.93 L491.50,401.97 L492.00,402.00 L492.50,402.04 L493.00,402.07 L493.50,402.10 L494.00,402.14 L494.50,402.17 L495.00,402.20 L495.50,402.22 L496.00,402.25 L496.50,402.28 L497.00,402.30 L497.50,402.33 L498.00,402.35 L498.50,402.38 L499.00,402.40 L499.50,402.42 L500.00,402.44 L500.50,402.46 L501.00,402.48 L501.50,402.50 L502.00,402.52 L502.50,402.54 L503.00,402.55 L503.50,402.57 L504.00,402.58 L504.50,402.59 L505.00,402.61 L505.50,402.62 L506.00,402.63 L506.50,402.64 L507.00,402.65 L507.50,402.66 L508.00,402.67 L508.50,402.67 L509.00,402.68 L509.50,402.68 L510.00,402.69 L510.50,402.69 L511.00,402.70 L511.50,402.70 L512.00,402.70 L512.50,402.70" fill="none" stroke="#8a8a12" stroke-width="1.9" stroke-linejoin="round" stroke-linecap="round" />
<text x="365.2" y="296.2" font-family="Liberation Serif" font-weight="bold" font-size="9.5" fill="#2222ee" stroke="#2222ee" stroke-width="0.3" text-anchor="start" >Mn 2p<tspan font-size="6.5" dy="2.2">1/2</tspan></text>
<text x="441.8" y="265.6" font-family="Liberation Serif" font-weight="bold" font-size="9.5" fill="#ff2020" stroke="#ff2020" stroke-width="0.3" text-anchor="start" >Mn 2p<tspan font-size="6.5" dy="2.2">3/2</tspan></text>
<text x="342" y="322" font-family="Liberation Serif" font-weight="bold" font-size="9.5" fill="#b040f0" stroke="#b040f0" stroke-width="0.3" text-anchor="start" >Mn<tspan font-size="6.5" dy="-3.5">4+</tspan></text>
<line x1="352.5" y1="325.7" x2="365.2" y2="337.3" stroke="#0d9a2e" stroke-width="1.0"/>
<path d="M365.20,337.30 L360.53,335.74 L363.23,332.79 Z" fill="#0d9a2e"/>
<text x="397.7" y="315.2" font-family="Liberation Serif" font-weight="bold" font-size="9.5" fill="#0d9a2e" stroke="#0d9a2e" stroke-width="0.3" text-anchor="start" >Mn<tspan font-size="6.5" dy="-3.5">3+</tspan></text>
<line x1="403.5" y1="317.6" x2="390.8" y2="330.3" stroke="#b040f0" stroke-width="1.0"/>
<path d="M390.80,330.30 L392.57,325.70 L395.40,328.53 Z" fill="#b040f0"/>
<text x="413.1" y="330.7" font-family="Liberation Serif" font-weight="bold" font-size="9.5" fill="#b040f0" stroke="#b040f0" stroke-width="0.3" text-anchor="start" >Mn<tspan font-size="6.5" dy="-3.5">4+</tspan></text>
<line x1="422.9" y1="334" x2="434.9" y2="346" stroke="#2222ee" stroke-width="1.0"/>
<path d="M434.90,346.00 L430.30,344.23 L433.13,341.40 Z" fill="#2222ee"/>
<text x="472.7" y="298.2" font-family="Liberation Serif" font-weight="bold" font-size="9.5" fill="#0d9a2e" stroke="#0d9a2e" stroke-width="0.3" text-anchor="start" >Mn<tspan font-size="6.5" dy="-3.5">3+</tspan></text>
<line x1="478.2" y1="300.9" x2="465.1" y2="314" stroke="#ff2020" stroke-width="1.0"/>
<path d="M465.10,314.00 L466.87,309.40 L469.70,312.23 Z" fill="#ff2020"/>
</g>
</svg></body></html>
